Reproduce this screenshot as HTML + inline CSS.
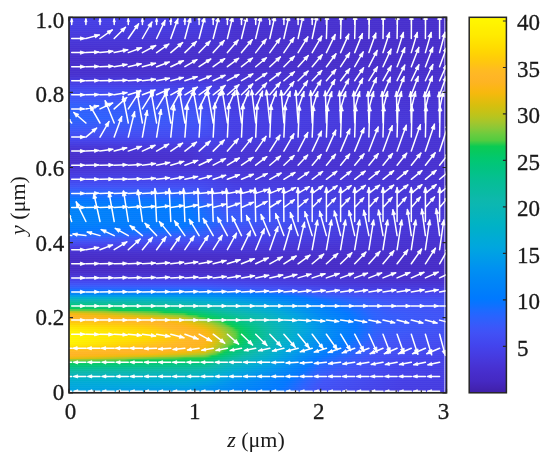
<!DOCTYPE html><html><head><meta charset="utf-8"><style>html,body{margin:0;padding:0;background:#fff;overflow:hidden}svg{display:block}text{font-family:"Liberation Serif","Times New Roman",serif;fill:#1a1a1a}</style></head><body>
<svg width="550" height="458" viewBox="0 0 550 458">
<defs><clipPath id="pc"><rect x="69.0" y="17.3" width="377.5" height="375.5"/></clipPath>
<linearGradient id="g0"><stop offset="0.000" stop-color="#453fe7"/><stop offset="0.358" stop-color="#453de3"/><stop offset="0.432" stop-color="#4733d5"/><stop offset="1.000" stop-color="#472fcd"/></linearGradient><linearGradient id="g1"><stop offset="0.000" stop-color="#453fe6"/><stop offset="0.358" stop-color="#453ce2"/><stop offset="0.432" stop-color="#4733d4"/><stop offset="1.000" stop-color="#472ecd"/></linearGradient><linearGradient id="g2"><stop offset="0.000" stop-color="#453ee5"/><stop offset="0.358" stop-color="#453ce1"/><stop offset="0.432" stop-color="#4733d3"/><stop offset="1.000" stop-color="#472ecc"/></linearGradient><linearGradient id="g3"><stop offset="0.000" stop-color="#453de4"/><stop offset="0.358" stop-color="#453be0"/><stop offset="0.432" stop-color="#4732d3"/><stop offset="1.000" stop-color="#472ecc"/></linearGradient><linearGradient id="g4"><stop offset="0.000" stop-color="#453de3"/><stop offset="0.358" stop-color="#463adf"/><stop offset="0.432" stop-color="#4732d2"/><stop offset="1.000" stop-color="#472ecc"/></linearGradient><linearGradient id="g5"><stop offset="0.000" stop-color="#453ce2"/><stop offset="0.358" stop-color="#463ade"/><stop offset="0.432" stop-color="#4731d1"/><stop offset="1.000" stop-color="#472ecc"/></linearGradient><linearGradient id="g6"><stop offset="0.000" stop-color="#453ce1"/><stop offset="0.358" stop-color="#4639dd"/><stop offset="0.442" stop-color="#4731d1"/><stop offset="1.000" stop-color="#472ecc"/></linearGradient><linearGradient id="g7"><stop offset="0.000" stop-color="#463adf"/><stop offset="0.358" stop-color="#4638dc"/><stop offset="0.442" stop-color="#4731d0"/><stop offset="1.000" stop-color="#472ecb"/></linearGradient><linearGradient id="g8"><stop offset="0.000" stop-color="#4639de"/><stop offset="0.368" stop-color="#4636d9"/><stop offset="0.442" stop-color="#4730cf"/><stop offset="1.000" stop-color="#472ecb"/></linearGradient><linearGradient id="g9"><stop offset="0.000" stop-color="#4638dc"/><stop offset="0.368" stop-color="#4636d8"/><stop offset="0.442" stop-color="#4730cf"/><stop offset="1.000" stop-color="#472dcb"/></linearGradient><linearGradient id="g10"><stop offset="0.000" stop-color="#4637db"/><stop offset="0.368" stop-color="#4735d7"/><stop offset="0.453" stop-color="#472fce"/><stop offset="1.000" stop-color="#472dcb"/></linearGradient><linearGradient id="g11"><stop offset="0.000" stop-color="#4636d9"/><stop offset="0.379" stop-color="#4733d4"/><stop offset="0.484" stop-color="#472fcd"/><stop offset="1.000" stop-color="#472dcb"/></linearGradient><linearGradient id="g12"><stop offset="0.000" stop-color="#4735d7"/><stop offset="0.379" stop-color="#4732d3"/><stop offset="0.495" stop-color="#472ecd"/><stop offset="1.000" stop-color="#472dca"/></linearGradient><linearGradient id="g13"><stop offset="0.000" stop-color="#4734d6"/><stop offset="0.379" stop-color="#4732d2"/><stop offset="0.495" stop-color="#472ecc"/><stop offset="1.000" stop-color="#472dca"/></linearGradient><linearGradient id="g14"><stop offset="0.000" stop-color="#4733d4"/><stop offset="0.379" stop-color="#4731d1"/><stop offset="0.526" stop-color="#472ecc"/><stop offset="1.000" stop-color="#472dca"/></linearGradient><linearGradient id="g15"><stop offset="0.000" stop-color="#4732d3"/><stop offset="0.389" stop-color="#4730cf"/><stop offset="1.000" stop-color="#472dca"/></linearGradient><linearGradient id="g16"><stop offset="0.000" stop-color="#4731d1"/><stop offset="0.389" stop-color="#472fce"/><stop offset="1.000" stop-color="#472dca"/></linearGradient><linearGradient id="g17"><stop offset="0.000" stop-color="#4730d0"/><stop offset="0.400" stop-color="#472ecc"/><stop offset="1.000" stop-color="#472dca"/></linearGradient><linearGradient id="g18"><stop offset="0.000" stop-color="#472fce"/><stop offset="0.400" stop-color="#472ecc"/><stop offset="1.000" stop-color="#472dca"/></linearGradient><linearGradient id="g19"><stop offset="0.000" stop-color="#472ecd"/><stop offset="1.000" stop-color="#472dca"/></linearGradient><linearGradient id="g20"><stop offset="0.000" stop-color="#472ecb"/><stop offset="1.000" stop-color="#472dca"/></linearGradient><linearGradient id="g22"><stop offset="0.000" stop-color="#472dcb"/><stop offset="1.000" stop-color="#472dca"/></linearGradient><linearGradient id="g23"><stop offset="0.000" stop-color="#472ecb"/><stop offset="1.000" stop-color="#472dcb"/></linearGradient><linearGradient id="g24"><stop offset="0.000" stop-color="#472ecc"/><stop offset="1.000" stop-color="#472ecb"/></linearGradient><linearGradient id="g25"><stop offset="0.000" stop-color="#472fcd"/><stop offset="1.000" stop-color="#472ecb"/></linearGradient><linearGradient id="g26"><stop offset="0.000" stop-color="#472fce"/><stop offset="0.400" stop-color="#472fcd"/><stop offset="1.000" stop-color="#472ecc"/></linearGradient><linearGradient id="g27"><stop offset="0.000" stop-color="#4730ce"/><stop offset="0.400" stop-color="#472fce"/><stop offset="1.000" stop-color="#472ecc"/></linearGradient><linearGradient id="g28"><stop offset="0.000" stop-color="#4730cf"/><stop offset="0.400" stop-color="#472fce"/><stop offset="1.000" stop-color="#472ecc"/></linearGradient><linearGradient id="g29"><stop offset="0.000" stop-color="#4732d3"/><stop offset="0.389" stop-color="#4731d1"/><stop offset="1.000" stop-color="#472fcd"/></linearGradient><linearGradient id="g30"><stop offset="0.000" stop-color="#4636d8"/><stop offset="0.379" stop-color="#4734d6"/><stop offset="0.516" stop-color="#4731d1"/><stop offset="1.000" stop-color="#472fcd"/></linearGradient><linearGradient id="g31"><stop offset="0.000" stop-color="#4639dd"/><stop offset="0.379" stop-color="#4636d9"/><stop offset="0.474" stop-color="#4732d2"/><stop offset="1.000" stop-color="#472fce"/></linearGradient><linearGradient id="g32"><stop offset="0.000" stop-color="#453de3"/><stop offset="0.379" stop-color="#4638dc"/><stop offset="0.453" stop-color="#4733d4"/><stop offset="1.000" stop-color="#472fce"/></linearGradient><linearGradient id="g33"><stop offset="0.000" stop-color="#4440e8"/><stop offset="0.368" stop-color="#453ce1"/><stop offset="0.432" stop-color="#4734d6"/><stop offset="1.000" stop-color="#472fce"/></linearGradient><linearGradient id="g34"><stop offset="0.000" stop-color="#4444ec"/><stop offset="0.368" stop-color="#453ee5"/><stop offset="0.432" stop-color="#4735d8"/><stop offset="1.000" stop-color="#4730cf"/></linearGradient><linearGradient id="g35"><stop offset="0.000" stop-color="#4348ef"/><stop offset="0.368" stop-color="#4440e8"/><stop offset="0.432" stop-color="#4637da"/><stop offset="1.000" stop-color="#4730cf"/></linearGradient><linearGradient id="g36"><stop offset="0.000" stop-color="#424cf2"/><stop offset="0.368" stop-color="#4442eb"/><stop offset="0.421" stop-color="#4638db"/><stop offset="1.000" stop-color="#4730cf"/></linearGradient><linearGradient id="g37"><stop offset="0.000" stop-color="#414ef4"/><stop offset="0.368" stop-color="#4443ec"/><stop offset="0.421" stop-color="#4638dc"/><stop offset="1.000" stop-color="#4730d0"/></linearGradient><linearGradient id="g38"><stop offset="0.000" stop-color="#4151f6"/><stop offset="0.368" stop-color="#4444ec"/><stop offset="0.421" stop-color="#4639dd"/><stop offset="1.000" stop-color="#4731d0"/></linearGradient><linearGradient id="g39"><stop offset="0.000" stop-color="#4053f8"/><stop offset="0.358" stop-color="#4347ef"/><stop offset="0.432" stop-color="#463ade"/><stop offset="1.000" stop-color="#4731d1"/></linearGradient><linearGradient id="g40"><stop offset="0.000" stop-color="#3d56f9"/><stop offset="0.358" stop-color="#4348f0"/><stop offset="0.432" stop-color="#463adf"/><stop offset="1.000" stop-color="#4731d1"/></linearGradient><linearGradient id="g41"><stop offset="0.000" stop-color="#3959fa"/><stop offset="0.358" stop-color="#4249f0"/><stop offset="0.432" stop-color="#453be0"/><stop offset="1.000" stop-color="#4731d2"/></linearGradient><linearGradient id="g42"><stop offset="0.000" stop-color="#355bfb"/><stop offset="0.347" stop-color="#424cf2"/><stop offset="0.432" stop-color="#453be1"/><stop offset="1.000" stop-color="#4732d2"/></linearGradient><linearGradient id="g43"><stop offset="0.000" stop-color="#315efc"/><stop offset="0.347" stop-color="#424df3"/><stop offset="0.432" stop-color="#453ce1"/><stop offset="1.000" stop-color="#4732d2"/></linearGradient><linearGradient id="g44"><stop offset="0.000" stop-color="#2f60fc"/><stop offset="0.337" stop-color="#414ff5"/><stop offset="0.432" stop-color="#453ce2"/><stop offset="1.000" stop-color="#4732d3"/></linearGradient><linearGradient id="g45"><stop offset="0.000" stop-color="#2e60fd"/><stop offset="0.347" stop-color="#414ff4"/><stop offset="0.432" stop-color="#453de3"/><stop offset="1.000" stop-color="#4732d3"/></linearGradient><linearGradient id="g46"><stop offset="0.000" stop-color="#2c61fd"/><stop offset="0.347" stop-color="#4150f5"/><stop offset="0.432" stop-color="#453de4"/><stop offset="1.000" stop-color="#4733d4"/></linearGradient><linearGradient id="g47"><stop offset="0.000" stop-color="#2b62fd"/><stop offset="0.347" stop-color="#4151f6"/><stop offset="0.432" stop-color="#453ee5"/><stop offset="1.000" stop-color="#4733d4"/></linearGradient><linearGradient id="g48"><stop offset="0.000" stop-color="#2a63fe"/><stop offset="0.347" stop-color="#4152f6"/><stop offset="0.421" stop-color="#453fe6"/><stop offset="1.000" stop-color="#4733d4"/></linearGradient><linearGradient id="g49"><stop offset="0.000" stop-color="#2963fe"/><stop offset="0.358" stop-color="#4152f6"/><stop offset="0.421" stop-color="#453fe7"/><stop offset="1.000" stop-color="#4734d5"/></linearGradient><linearGradient id="g50"><stop offset="0.000" stop-color="#2864fe"/><stop offset="0.337" stop-color="#3f55f8"/><stop offset="0.432" stop-color="#4440e7"/><stop offset="1.000" stop-color="#4734d5"/></linearGradient><linearGradient id="g51"><stop offset="0.000" stop-color="#2c62fd"/><stop offset="0.358" stop-color="#4152f6"/><stop offset="0.421" stop-color="#453fe7"/><stop offset="1.000" stop-color="#4734d5"/></linearGradient><linearGradient id="g52"><stop offset="0.000" stop-color="#2f5ffc"/><stop offset="0.358" stop-color="#4151f6"/><stop offset="0.421" stop-color="#453fe6"/><stop offset="1.000" stop-color="#4734d5"/></linearGradient><linearGradient id="g53"><stop offset="0.000" stop-color="#325dfc"/><stop offset="0.358" stop-color="#4151f6"/><stop offset="0.421" stop-color="#453fe6"/><stop offset="1.000" stop-color="#4733d5"/></linearGradient><linearGradient id="g54"><stop offset="0.000" stop-color="#355bfb"/><stop offset="0.358" stop-color="#4150f5"/><stop offset="0.421" stop-color="#453ee6"/><stop offset="1.000" stop-color="#4733d4"/></linearGradient><linearGradient id="g55"><stop offset="0.000" stop-color="#3959fa"/><stop offset="0.358" stop-color="#414ff5"/><stop offset="0.421" stop-color="#453ee5"/><stop offset="1.000" stop-color="#4733d4"/></linearGradient><linearGradient id="g56"><stop offset="0.000" stop-color="#3c56f9"/><stop offset="0.368" stop-color="#424cf2"/><stop offset="0.432" stop-color="#453ee5"/><stop offset="1.000" stop-color="#4733d4"/></linearGradient><linearGradient id="g57"><stop offset="0.000" stop-color="#4052f7"/><stop offset="0.368" stop-color="#424bf2"/><stop offset="0.432" stop-color="#453ee4"/><stop offset="1.000" stop-color="#4733d4"/></linearGradient><linearGradient id="g58"><stop offset="0.000" stop-color="#414ff4"/><stop offset="0.368" stop-color="#424bf1"/><stop offset="0.432" stop-color="#453de4"/><stop offset="1.000" stop-color="#4733d4"/></linearGradient><linearGradient id="g59"><stop offset="0.000" stop-color="#424bf1"/><stop offset="0.347" stop-color="#424af1"/><stop offset="0.442" stop-color="#453ce2"/><stop offset="1.000" stop-color="#4733d4"/></linearGradient><linearGradient id="g60"><stop offset="0.000" stop-color="#4347ef"/><stop offset="0.337" stop-color="#4346ee"/><stop offset="0.379" stop-color="#4443ec"/><stop offset="0.432" stop-color="#453be1"/><stop offset="1.000" stop-color="#4733d3"/></linearGradient><linearGradient id="g61"><stop offset="0.000" stop-color="#4443ec"/><stop offset="0.326" stop-color="#4442eb"/><stop offset="0.379" stop-color="#4441ea"/><stop offset="0.432" stop-color="#463adf"/><stop offset="1.000" stop-color="#4733d3"/></linearGradient><linearGradient id="g62"><stop offset="0.000" stop-color="#453fe6"/><stop offset="0.326" stop-color="#453fe7"/><stop offset="0.368" stop-color="#4441ea"/><stop offset="0.432" stop-color="#4639dd"/><stop offset="1.000" stop-color="#4732d3"/></linearGradient><linearGradient id="g63"><stop offset="0.000" stop-color="#453be0"/><stop offset="0.316" stop-color="#453be1"/><stop offset="0.368" stop-color="#453fe6"/><stop offset="0.432" stop-color="#4637db"/><stop offset="1.000" stop-color="#4732d3"/></linearGradient><linearGradient id="g64"><stop offset="0.000" stop-color="#4637da"/><stop offset="0.316" stop-color="#4638dc"/><stop offset="0.368" stop-color="#453de3"/><stop offset="0.442" stop-color="#4636d9"/><stop offset="1.000" stop-color="#4732d3"/></linearGradient><linearGradient id="g65"><stop offset="0.000" stop-color="#4734d5"/><stop offset="0.316" stop-color="#4636d8"/><stop offset="0.368" stop-color="#463adf"/><stop offset="0.453" stop-color="#4735d7"/><stop offset="1.000" stop-color="#4732d2"/></linearGradient><linearGradient id="g66"><stop offset="0.000" stop-color="#4732d2"/><stop offset="0.316" stop-color="#4734d5"/><stop offset="0.368" stop-color="#4638dc"/><stop offset="0.474" stop-color="#4734d5"/><stop offset="1.000" stop-color="#4732d2"/></linearGradient><linearGradient id="g67"><stop offset="0.000" stop-color="#4730d0"/><stop offset="0.316" stop-color="#4732d3"/><stop offset="0.368" stop-color="#4638db"/><stop offset="0.484" stop-color="#4733d4"/><stop offset="1.000" stop-color="#4732d2"/></linearGradient><linearGradient id="g68"><stop offset="0.000" stop-color="#472fcd"/><stop offset="0.316" stop-color="#4731d1"/><stop offset="0.368" stop-color="#4637da"/><stop offset="0.495" stop-color="#4733d4"/><stop offset="1.000" stop-color="#4731d1"/></linearGradient><linearGradient id="g69"><stop offset="0.000" stop-color="#472ecc"/><stop offset="0.316" stop-color="#4730d0"/><stop offset="0.368" stop-color="#4636d9"/><stop offset="0.505" stop-color="#4732d3"/><stop offset="1.000" stop-color="#4731d1"/></linearGradient><linearGradient id="g70"><stop offset="0.000" stop-color="#472ecc"/><stop offset="0.316" stop-color="#4730cf"/><stop offset="0.368" stop-color="#4636d8"/><stop offset="0.516" stop-color="#4732d2"/><stop offset="1.000" stop-color="#4731d1"/></linearGradient><linearGradient id="g71"><stop offset="0.000" stop-color="#472ecc"/><stop offset="0.316" stop-color="#4730cf"/><stop offset="0.368" stop-color="#4735d7"/><stop offset="0.537" stop-color="#4732d2"/><stop offset="1.000" stop-color="#4731d0"/></linearGradient><linearGradient id="g72"><stop offset="0.000" stop-color="#472ecc"/><stop offset="0.316" stop-color="#4730cf"/><stop offset="0.379" stop-color="#4733d4"/><stop offset="1.000" stop-color="#4730d0"/></linearGradient><linearGradient id="g73"><stop offset="0.000" stop-color="#4730cf"/><stop offset="0.337" stop-color="#4732d3"/><stop offset="1.000" stop-color="#4730d0"/></linearGradient><linearGradient id="g74"><stop offset="0.000" stop-color="#4732d2"/><stop offset="0.389" stop-color="#4733d3"/><stop offset="1.000" stop-color="#4730d0"/></linearGradient><linearGradient id="g75"><stop offset="0.000" stop-color="#4734d5"/><stop offset="0.379" stop-color="#4735d7"/><stop offset="0.600" stop-color="#4732d3"/><stop offset="1.000" stop-color="#4730d0"/></linearGradient><linearGradient id="g76"><stop offset="0.000" stop-color="#4636d8"/><stop offset="0.379" stop-color="#4637da"/><stop offset="0.526" stop-color="#4733d4"/><stop offset="1.000" stop-color="#4731d0"/></linearGradient><linearGradient id="g77"><stop offset="0.000" stop-color="#4638dc"/><stop offset="0.379" stop-color="#4639dc"/><stop offset="0.505" stop-color="#4734d6"/><stop offset="1.000" stop-color="#4731d0"/></linearGradient><linearGradient id="g78"><stop offset="0.000" stop-color="#453be0"/><stop offset="0.379" stop-color="#463adf"/><stop offset="0.474" stop-color="#4735d8"/><stop offset="1.000" stop-color="#4731d1"/></linearGradient><linearGradient id="g79"><stop offset="0.000" stop-color="#453de4"/><stop offset="0.379" stop-color="#453ce2"/><stop offset="0.463" stop-color="#4637da"/><stop offset="1.000" stop-color="#4731d1"/></linearGradient><linearGradient id="g80"><stop offset="0.000" stop-color="#4440e8"/><stop offset="0.368" stop-color="#453fe7"/><stop offset="0.442" stop-color="#4638dc"/><stop offset="1.000" stop-color="#4731d1"/></linearGradient><linearGradient id="g81"><stop offset="0.000" stop-color="#4345ed"/><stop offset="0.368" stop-color="#4441e9"/><stop offset="0.432" stop-color="#463ade"/><stop offset="1.000" stop-color="#4731d2"/></linearGradient><linearGradient id="g82"><stop offset="0.000" stop-color="#4249f0"/><stop offset="0.358" stop-color="#4345ed"/><stop offset="0.432" stop-color="#453be0"/><stop offset="1.000" stop-color="#4732d2"/></linearGradient><linearGradient id="g83"><stop offset="0.000" stop-color="#414ef4"/><stop offset="0.347" stop-color="#4348ef"/><stop offset="0.442" stop-color="#453ce2"/><stop offset="1.000" stop-color="#4732d2"/></linearGradient><linearGradient id="g84"><stop offset="0.000" stop-color="#4053f7"/><stop offset="0.337" stop-color="#424cf2"/><stop offset="0.442" stop-color="#453de4"/><stop offset="1.000" stop-color="#4732d2"/></linearGradient><linearGradient id="g85"><stop offset="0.000" stop-color="#3959fa"/><stop offset="0.326" stop-color="#4151f6"/><stop offset="0.432" stop-color="#453fe6"/><stop offset="1.000" stop-color="#4732d3"/></linearGradient><linearGradient id="g86"><stop offset="0.000" stop-color="#315efc"/><stop offset="0.305" stop-color="#3859fa"/><stop offset="0.379" stop-color="#4249f0"/><stop offset="0.442" stop-color="#4440e8"/><stop offset="0.989" stop-color="#4732d3"/><stop offset="1.000" stop-color="#4732d3"/></linearGradient><linearGradient id="g87"><stop offset="0.000" stop-color="#2864fe"/><stop offset="0.305" stop-color="#315efc"/><stop offset="0.358" stop-color="#4151f6"/><stop offset="0.432" stop-color="#4442eb"/><stop offset="0.968" stop-color="#4733d4"/><stop offset="1.000" stop-color="#4732d3"/></linearGradient><linearGradient id="g88"><stop offset="0.000" stop-color="#1e69ff"/><stop offset="0.305" stop-color="#2b62fe"/><stop offset="0.368" stop-color="#4151f6"/><stop offset="0.432" stop-color="#4444ed"/><stop offset="0.968" stop-color="#4733d4"/><stop offset="1.000" stop-color="#4733d3"/></linearGradient><linearGradient id="g89"><stop offset="0.000" stop-color="#146eff"/><stop offset="0.305" stop-color="#2466ff"/><stop offset="0.379" stop-color="#4151f6"/><stop offset="0.432" stop-color="#4347ee"/><stop offset="0.968" stop-color="#4733d4"/><stop offset="1.000" stop-color="#4733d4"/></linearGradient><linearGradient id="g90"><stop offset="0.000" stop-color="#0974ff"/><stop offset="0.305" stop-color="#1a6bff"/><stop offset="0.379" stop-color="#4053f8"/><stop offset="0.432" stop-color="#4249f0"/><stop offset="0.811" stop-color="#4636d9"/><stop offset="1.000" stop-color="#4733d4"/></linearGradient><linearGradient id="g91"><stop offset="0.000" stop-color="#0078ff"/><stop offset="0.295" stop-color="#0c72ff"/><stop offset="0.379" stop-color="#3d56f9"/><stop offset="0.432" stop-color="#424bf2"/><stop offset="0.789" stop-color="#4638dc"/><stop offset="1.000" stop-color="#4733d4"/></linearGradient><linearGradient id="g92"><stop offset="0.000" stop-color="#007afe"/><stop offset="0.295" stop-color="#0775ff"/><stop offset="0.379" stop-color="#3859fa"/><stop offset="0.421" stop-color="#414ef3"/><stop offset="0.768" stop-color="#463adf"/><stop offset="1.000" stop-color="#4733d5"/></linearGradient><linearGradient id="g93"><stop offset="0.000" stop-color="#007dfc"/><stop offset="0.295" stop-color="#0277ff"/><stop offset="0.400" stop-color="#3f55f8"/><stop offset="0.811" stop-color="#4638dc"/><stop offset="1.000" stop-color="#4734d5"/></linearGradient><linearGradient id="g94"><stop offset="0.000" stop-color="#007ffb"/><stop offset="0.305" stop-color="#0178ff"/><stop offset="0.400" stop-color="#3b57f9"/><stop offset="0.463" stop-color="#4152f6"/><stop offset="0.926" stop-color="#4735d8"/><stop offset="1.000" stop-color="#4734d5"/></linearGradient><linearGradient id="g95"><stop offset="0.000" stop-color="#0081fa"/><stop offset="0.316" stop-color="#0277ff"/><stop offset="0.411" stop-color="#3d56f9"/><stop offset="0.779" stop-color="#453be0"/><stop offset="1.000" stop-color="#4734d6"/></linearGradient><linearGradient id="g96"><stop offset="0.000" stop-color="#0083f9"/><stop offset="0.316" stop-color="#0079ff"/><stop offset="0.411" stop-color="#3a58fa"/><stop offset="0.789" stop-color="#453be0"/><stop offset="1.000" stop-color="#4734d6"/></linearGradient><linearGradient id="g97"><stop offset="0.000" stop-color="#0083f9"/><stop offset="0.316" stop-color="#0079ff"/><stop offset="0.411" stop-color="#3959fa"/><stop offset="0.684" stop-color="#4442eb"/><stop offset="0.916" stop-color="#4636d9"/><stop offset="1.000" stop-color="#4734d6"/></linearGradient><linearGradient id="g98"><stop offset="0.000" stop-color="#0083f9"/><stop offset="0.326" stop-color="#0376ff"/><stop offset="0.411" stop-color="#375afa"/><stop offset="0.632" stop-color="#4347ef"/><stop offset="0.926" stop-color="#4636d9"/><stop offset="1.000" stop-color="#4735d6"/></linearGradient><linearGradient id="g99"><stop offset="0.000" stop-color="#0083f9"/><stop offset="0.326" stop-color="#0377ff"/><stop offset="0.411" stop-color="#365bfb"/><stop offset="0.600" stop-color="#424af1"/><stop offset="0.916" stop-color="#4637d9"/><stop offset="1.000" stop-color="#4735d7"/></linearGradient><linearGradient id="g100"><stop offset="0.000" stop-color="#0083f9"/><stop offset="0.326" stop-color="#0377ff"/><stop offset="0.411" stop-color="#355bfb"/><stop offset="0.589" stop-color="#424cf2"/><stop offset="0.905" stop-color="#4637da"/><stop offset="1.000" stop-color="#4735d7"/></linearGradient><linearGradient id="g101"><stop offset="0.000" stop-color="#0083f9"/><stop offset="0.326" stop-color="#0277ff"/><stop offset="0.411" stop-color="#345cfb"/><stop offset="0.579" stop-color="#424df3"/><stop offset="0.905" stop-color="#4637da"/><stop offset="1.000" stop-color="#4735d7"/></linearGradient><linearGradient id="g102"><stop offset="0.000" stop-color="#0082f9"/><stop offset="0.326" stop-color="#0377ff"/><stop offset="0.411" stop-color="#335cfb"/><stop offset="0.579" stop-color="#424df3"/><stop offset="0.895" stop-color="#4637da"/><stop offset="1.000" stop-color="#4735d8"/></linearGradient><linearGradient id="g103"><stop offset="0.000" stop-color="#0080fa"/><stop offset="0.305" stop-color="#0078ff"/><stop offset="0.421" stop-color="#3958fa"/><stop offset="0.716" stop-color="#453fe6"/><stop offset="0.926" stop-color="#4636d9"/><stop offset="1.000" stop-color="#4735d7"/></linearGradient><linearGradient id="g104"><stop offset="0.000" stop-color="#007efc"/><stop offset="0.305" stop-color="#0675ff"/><stop offset="0.421" stop-color="#3e55f9"/><stop offset="0.863" stop-color="#4636d9"/><stop offset="1.000" stop-color="#4734d6"/></linearGradient><linearGradient id="g105"><stop offset="0.000" stop-color="#007cfd"/><stop offset="0.168" stop-color="#0675ff"/><stop offset="0.305" stop-color="#0e71ff"/><stop offset="0.411" stop-color="#4053f7"/><stop offset="0.874" stop-color="#4735d8"/><stop offset="1.000" stop-color="#4734d5"/></linearGradient><linearGradient id="g106"><stop offset="0.000" stop-color="#007afe"/><stop offset="0.158" stop-color="#0c72ff"/><stop offset="0.305" stop-color="#156eff"/><stop offset="0.411" stop-color="#4150f5"/><stop offset="0.884" stop-color="#4735d6"/><stop offset="1.000" stop-color="#4733d5"/></linearGradient><linearGradient id="g107"><stop offset="0.000" stop-color="#0377ff"/><stop offset="0.253" stop-color="#1b6bff"/><stop offset="0.305" stop-color="#1e6aff"/><stop offset="0.379" stop-color="#3959fa"/><stop offset="0.421" stop-color="#424df3"/><stop offset="0.726" stop-color="#4639dd"/><stop offset="1.000" stop-color="#4733d4"/></linearGradient><linearGradient id="g108"><stop offset="0.000" stop-color="#156eff"/><stop offset="0.253" stop-color="#2864fe"/><stop offset="0.358" stop-color="#325dfc"/><stop offset="0.400" stop-color="#414ef4"/><stop offset="0.853" stop-color="#4733d5"/><stop offset="1.000" stop-color="#4733d3"/></linearGradient><linearGradient id="g109"><stop offset="0.000" stop-color="#2765ff"/><stop offset="0.337" stop-color="#375afa"/><stop offset="0.421" stop-color="#4346ee"/><stop offset="0.642" stop-color="#453be0"/><stop offset="0.926" stop-color="#4732d3"/><stop offset="1.000" stop-color="#4732d3"/></linearGradient><linearGradient id="g110"><stop offset="0.000" stop-color="#325dfc"/><stop offset="0.358" stop-color="#4151f6"/><stop offset="0.432" stop-color="#4442eb"/><stop offset="0.895" stop-color="#4732d2"/><stop offset="1.000" stop-color="#4732d2"/></linearGradient><linearGradient id="g111"><stop offset="0.000" stop-color="#3d56f9"/><stop offset="0.347" stop-color="#424cf2"/><stop offset="0.442" stop-color="#453fe7"/><stop offset="0.905" stop-color="#4731d1"/><stop offset="1.000" stop-color="#4731d1"/></linearGradient><linearGradient id="g112"><stop offset="0.000" stop-color="#414ef3"/><stop offset="0.347" stop-color="#4346ee"/><stop offset="0.442" stop-color="#453ce2"/><stop offset="0.937" stop-color="#4731d0"/><stop offset="1.000" stop-color="#4731d0"/></linearGradient><linearGradient id="g113"><stop offset="0.000" stop-color="#4346ee"/><stop offset="0.347" stop-color="#4440e8"/><stop offset="0.453" stop-color="#4639dd"/><stop offset="0.979" stop-color="#4730cf"/><stop offset="1.000" stop-color="#4730cf"/></linearGradient><linearGradient id="g114"><stop offset="0.000" stop-color="#453fe6"/><stop offset="0.347" stop-color="#453ce2"/><stop offset="0.474" stop-color="#4636d9"/><stop offset="1.000" stop-color="#472fce"/></linearGradient><linearGradient id="g115"><stop offset="0.000" stop-color="#463ade"/><stop offset="0.389" stop-color="#4636d9"/><stop offset="1.000" stop-color="#472fcd"/></linearGradient><linearGradient id="g116"><stop offset="0.000" stop-color="#4734d6"/><stop offset="0.389" stop-color="#4734d6"/><stop offset="1.000" stop-color="#472ecc"/></linearGradient><linearGradient id="g117"><stop offset="0.000" stop-color="#4730cf"/><stop offset="0.347" stop-color="#4733d3"/><stop offset="1.000" stop-color="#472ecb"/></linearGradient><linearGradient id="g118"><stop offset="0.000" stop-color="#472ecc"/><stop offset="0.716" stop-color="#472fcd"/><stop offset="1.000" stop-color="#472dca"/></linearGradient><linearGradient id="g120"><stop offset="0.000" stop-color="#462cc7"/><stop offset="1.000" stop-color="#472dca"/></linearGradient><linearGradient id="g121"><stop offset="0.000" stop-color="#462ac5"/><stop offset="1.000" stop-color="#462dc9"/></linearGradient><linearGradient id="g122"><stop offset="0.000" stop-color="#462ac5"/><stop offset="1.000" stop-color="#462dc9"/></linearGradient><linearGradient id="g123"><stop offset="0.000" stop-color="#462ac5"/><stop offset="1.000" stop-color="#462cc9"/></linearGradient><linearGradient id="g124"><stop offset="0.000" stop-color="#462ac5"/><stop offset="1.000" stop-color="#462cc8"/></linearGradient><linearGradient id="g125"><stop offset="0.000" stop-color="#462ac5"/><stop offset="0.979" stop-color="#462cc8"/><stop offset="1.000" stop-color="#462cc8"/></linearGradient><linearGradient id="g126"><stop offset="0.000" stop-color="#462bc6"/><stop offset="0.811" stop-color="#462cc8"/><stop offset="1.000" stop-color="#462cc8"/></linearGradient><linearGradient id="g127"><stop offset="0.000" stop-color="#472dcb"/><stop offset="1.000" stop-color="#462cc9"/></linearGradient><linearGradient id="g128"><stop offset="0.000" stop-color="#4731d0"/><stop offset="1.000" stop-color="#472dca"/></linearGradient><linearGradient id="g129"><stop offset="0.000" stop-color="#4735d7"/><stop offset="0.368" stop-color="#4732d2"/><stop offset="1.000" stop-color="#472dcb"/></linearGradient><linearGradient id="g130"><stop offset="0.000" stop-color="#453ce1"/><stop offset="0.358" stop-color="#4639dd"/><stop offset="0.958" stop-color="#472ecb"/><stop offset="1.000" stop-color="#472ecb"/></linearGradient><linearGradient id="g131"><stop offset="0.000" stop-color="#4442eb"/><stop offset="0.358" stop-color="#453fe7"/><stop offset="0.895" stop-color="#472ecd"/><stop offset="1.000" stop-color="#472ecc"/></linearGradient><linearGradient id="g132"><stop offset="0.000" stop-color="#424bf1"/><stop offset="0.358" stop-color="#4346ee"/><stop offset="0.800" stop-color="#4732d2"/><stop offset="1.000" stop-color="#4730cf"/></linearGradient><linearGradient id="g133"><stop offset="0.000" stop-color="#4053f7"/><stop offset="0.358" stop-color="#414ef4"/><stop offset="0.642" stop-color="#463adf"/><stop offset="1.000" stop-color="#4732d3"/></linearGradient><linearGradient id="g134"><stop offset="0.000" stop-color="#365bfb"/><stop offset="0.326" stop-color="#3959fa"/><stop offset="0.474" stop-color="#414ef3"/><stop offset="0.800" stop-color="#4638dc"/><stop offset="1.000" stop-color="#4735d8"/></linearGradient><linearGradient id="g135"><stop offset="0.000" stop-color="#2963fe"/><stop offset="0.326" stop-color="#2d61fd"/><stop offset="0.537" stop-color="#4150f5"/><stop offset="0.789" stop-color="#453ce2"/><stop offset="1.000" stop-color="#4639dd"/></linearGradient><linearGradient id="g136"><stop offset="0.000" stop-color="#0f71ff"/><stop offset="0.316" stop-color="#126fff"/><stop offset="0.463" stop-color="#2c62fd"/><stop offset="0.621" stop-color="#414ff4"/><stop offset="0.895" stop-color="#453de4"/><stop offset="1.000" stop-color="#453ce2"/></linearGradient><linearGradient id="g137"><stop offset="0.000" stop-color="#007efc"/><stop offset="0.379" stop-color="#0079fe"/><stop offset="0.484" stop-color="#146eff"/><stop offset="0.663" stop-color="#4151f6"/><stop offset="0.895" stop-color="#4441ea"/><stop offset="1.000" stop-color="#453fe7"/></linearGradient><linearGradient id="g138"><stop offset="0.000" stop-color="#0089f5"/><stop offset="0.379" stop-color="#0083f9"/><stop offset="0.526" stop-color="#0377ff"/><stop offset="0.579" stop-color="#166dff"/><stop offset="0.663" stop-color="#3859fa"/><stop offset="0.768" stop-color="#424df3"/><stop offset="1.000" stop-color="#4443eb"/></linearGradient><linearGradient id="g139"><stop offset="0.000" stop-color="#00a2e3"/><stop offset="0.305" stop-color="#0097ec"/><stop offset="0.589" stop-color="#0177ff"/><stop offset="0.663" stop-color="#2c62fd"/><stop offset="0.789" stop-color="#4150f5"/><stop offset="1.000" stop-color="#4346ee"/></linearGradient><linearGradient id="g140"><stop offset="0.000" stop-color="#00b1c9"/><stop offset="0.253" stop-color="#00abd6"/><stop offset="0.389" stop-color="#009de7"/><stop offset="0.621" stop-color="#0079ff"/><stop offset="0.684" stop-color="#2466ff"/><stop offset="0.821" stop-color="#4151f6"/><stop offset="1.000" stop-color="#424af1"/></linearGradient><linearGradient id="g141"><stop offset="0.000" stop-color="#0bb7b1"/><stop offset="0.242" stop-color="#03b3c0"/><stop offset="0.432" stop-color="#00a1e4"/><stop offset="0.653" stop-color="#0177ff"/><stop offset="0.737" stop-color="#2864fe"/><stop offset="0.842" stop-color="#4054f8"/><stop offset="1.000" stop-color="#414df3"/></linearGradient><linearGradient id="g142"><stop offset="0.000" stop-color="#07bd9b"/><stop offset="0.253" stop-color="#0ab7b3"/><stop offset="0.389" stop-color="#00aece"/><stop offset="0.568" stop-color="#008ff2"/><stop offset="0.663" stop-color="#0078ff"/><stop offset="0.768" stop-color="#2d61fd"/><stop offset="0.853" stop-color="#3f55f8"/><stop offset="1.000" stop-color="#414ef4"/></linearGradient><linearGradient id="g143"><stop offset="0.000" stop-color="#03c385"/><stop offset="0.274" stop-color="#0bb9a8"/><stop offset="0.474" stop-color="#00a9da"/><stop offset="0.674" stop-color="#0079fe"/><stop offset="0.800" stop-color="#345cfb"/><stop offset="0.884" stop-color="#4054f8"/><stop offset="1.000" stop-color="#414ff4"/></linearGradient><linearGradient id="g144"><stop offset="0.000" stop-color="#01c770"/><stop offset="0.295" stop-color="#07bd9b"/><stop offset="0.368" stop-color="#0bb7b1"/><stop offset="0.474" stop-color="#00add0"/><stop offset="0.568" stop-color="#009ae9"/><stop offset="0.705" stop-color="#0476ff"/><stop offset="0.789" stop-color="#2e60fd"/><stop offset="0.853" stop-color="#3c56f9"/><stop offset="1.000" stop-color="#414ff5"/></linearGradient><linearGradient id="g145"><stop offset="0.000" stop-color="#08ca5b"/><stop offset="0.242" stop-color="#02c47e"/><stop offset="0.368" stop-color="#0abaa4"/><stop offset="0.432" stop-color="#05b4bc"/><stop offset="0.568" stop-color="#00a0e5"/><stop offset="0.674" stop-color="#007ffb"/><stop offset="0.716" stop-color="#0377ff"/><stop offset="0.789" stop-color="#2c61fd"/><stop offset="0.842" stop-color="#3a58fa"/><stop offset="1.000" stop-color="#4150f5"/></linearGradient><linearGradient id="g146"><stop offset="0.000" stop-color="#6bcc3f"/><stop offset="0.095" stop-color="#4ecc40"/><stop offset="0.105" stop-color="#3bcc44"/><stop offset="0.116" stop-color="#1fcc49"/><stop offset="0.126" stop-color="#0dcc4e"/><stop offset="0.242" stop-color="#04c966"/><stop offset="0.347" stop-color="#04c18d"/><stop offset="0.421" stop-color="#0bb7b0"/><stop offset="0.537" stop-color="#00acd4"/><stop offset="0.600" stop-color="#0099ea"/><stop offset="0.705" stop-color="#007bfd"/><stop offset="0.737" stop-color="#0a73ff"/><stop offset="0.800" stop-color="#2e60fd"/><stop offset="0.853" stop-color="#3a58fa"/><stop offset="1.000" stop-color="#4151f6"/></linearGradient><linearGradient id="g147"><stop offset="0.000" stop-color="#d4c010"/><stop offset="0.084" stop-color="#b0c524"/><stop offset="0.168" stop-color="#79ca3b"/><stop offset="0.232" stop-color="#50cc40"/><stop offset="0.253" stop-color="#0ccc4f"/><stop offset="0.316" stop-color="#03c869"/><stop offset="0.400" stop-color="#07bd9b"/><stop offset="0.453" stop-color="#0ab7b2"/><stop offset="0.558" stop-color="#00aad6"/><stop offset="0.653" stop-color="#0089f5"/><stop offset="0.737" stop-color="#0476ff"/><stop offset="0.800" stop-color="#2c61fd"/><stop offset="0.853" stop-color="#3859fa"/><stop offset="1.000" stop-color="#4151f6"/></linearGradient><linearGradient id="g148"><stop offset="0.000" stop-color="#fbb712"/><stop offset="0.063" stop-color="#e6bc0d"/><stop offset="0.147" stop-color="#c1c419"/><stop offset="0.232" stop-color="#89c937"/><stop offset="0.305" stop-color="#4ecc40"/><stop offset="0.316" stop-color="#0ccc50"/><stop offset="0.379" stop-color="#02c47e"/><stop offset="0.442" stop-color="#0abaa4"/><stop offset="0.505" stop-color="#06b5ba"/><stop offset="0.600" stop-color="#00a1e4"/><stop offset="0.674" stop-color="#0086f7"/><stop offset="0.737" stop-color="#0078ff"/><stop offset="0.800" stop-color="#2a63fe"/><stop offset="0.842" stop-color="#365bfb"/><stop offset="1.000" stop-color="#4052f6"/></linearGradient><linearGradient id="g149"><stop offset="0.000" stop-color="#ffb326"/><stop offset="0.095" stop-color="#f7b90d"/><stop offset="0.211" stop-color="#cfc112"/><stop offset="0.274" stop-color="#a9c628"/><stop offset="0.295" stop-color="#9ac732"/><stop offset="0.337" stop-color="#52cc40"/><stop offset="0.347" stop-color="#0ccc4f"/><stop offset="0.400" stop-color="#02c47e"/><stop offset="0.463" stop-color="#0abba4"/><stop offset="0.505" stop-color="#09b6b5"/><stop offset="0.579" stop-color="#00abd6"/><stop offset="0.663" stop-color="#008af5"/><stop offset="0.747" stop-color="#0377ff"/><stop offset="0.811" stop-color="#2e60fd"/><stop offset="0.905" stop-color="#3b57f9"/><stop offset="1.000" stop-color="#4052f7"/></linearGradient><linearGradient id="g150"><stop offset="0.000" stop-color="#ffb726"/><stop offset="0.095" stop-color="#feb421"/><stop offset="0.211" stop-color="#f5b90d"/><stop offset="0.274" stop-color="#d3c010"/><stop offset="0.305" stop-color="#bec41b"/><stop offset="0.337" stop-color="#83c939"/><stop offset="0.358" stop-color="#57cc40"/><stop offset="0.368" stop-color="#0dcc4d"/><stop offset="0.411" stop-color="#01c676"/><stop offset="0.474" stop-color="#09bca0"/><stop offset="0.516" stop-color="#0ab6b4"/><stop offset="0.579" stop-color="#00add1"/><stop offset="0.642" stop-color="#0095ed"/><stop offset="0.747" stop-color="#0078ff"/><stop offset="0.811" stop-color="#2d60fd"/><stop offset="0.884" stop-color="#3958fa"/><stop offset="1.000" stop-color="#4152f6"/></linearGradient><linearGradient id="g151"><stop offset="0.000" stop-color="#ffbf1b"/><stop offset="0.095" stop-color="#ffb626"/><stop offset="0.189" stop-color="#feb421"/><stop offset="0.253" stop-color="#f7b90d"/><stop offset="0.305" stop-color="#d6c00e"/><stop offset="0.337" stop-color="#aec525"/><stop offset="0.368" stop-color="#71cb3d"/><stop offset="0.379" stop-color="#5bcc40"/><stop offset="0.389" stop-color="#1fcc49"/><stop offset="0.400" stop-color="#0acb57"/><stop offset="0.432" stop-color="#01c678"/><stop offset="0.495" stop-color="#0abba3"/><stop offset="0.537" stop-color="#07b5b8"/><stop offset="0.600" stop-color="#00aad8"/><stop offset="0.674" stop-color="#008bf4"/><stop offset="0.747" stop-color="#0079fe"/><stop offset="0.821" stop-color="#335dfb"/><stop offset="1.000" stop-color="#4151f6"/></linearGradient><linearGradient id="g152"><stop offset="0.000" stop-color="#ffc90c"/><stop offset="0.189" stop-color="#ffb726"/><stop offset="0.242" stop-color="#ffb324"/><stop offset="0.295" stop-color="#f7b90d"/><stop offset="0.337" stop-color="#cec113"/><stop offset="0.358" stop-color="#b5c521"/><stop offset="0.379" stop-color="#8ac837"/><stop offset="0.400" stop-color="#59cc40"/><stop offset="0.411" stop-color="#0dcc4e"/><stop offset="0.442" stop-color="#00c775"/><stop offset="0.505" stop-color="#0abaa4"/><stop offset="0.558" stop-color="#03b3c1"/><stop offset="0.632" stop-color="#009fe5"/><stop offset="0.695" stop-color="#0087f7"/><stop offset="0.758" stop-color="#0476ff"/><stop offset="0.811" stop-color="#2d61fd"/><stop offset="0.874" stop-color="#3959fa"/><stop offset="1.000" stop-color="#4151f6"/></linearGradient><linearGradient id="g153"><stop offset="0.000" stop-color="#ffd602"/><stop offset="0.179" stop-color="#ffc116"/><stop offset="0.242" stop-color="#ffb626"/><stop offset="0.274" stop-color="#feb423"/><stop offset="0.316" stop-color="#f6b90d"/><stop offset="0.358" stop-color="#d2c011"/><stop offset="0.379" stop-color="#afc525"/><stop offset="0.400" stop-color="#79ca3b"/><stop offset="0.411" stop-color="#5dcc40"/><stop offset="0.421" stop-color="#0dcc4d"/><stop offset="0.453" stop-color="#00c675"/><stop offset="0.516" stop-color="#0bbaa7"/><stop offset="0.611" stop-color="#00a9da"/><stop offset="0.684" stop-color="#008af5"/><stop offset="0.758" stop-color="#0376ff"/><stop offset="0.811" stop-color="#2d61fd"/><stop offset="0.874" stop-color="#3959fa"/><stop offset="1.000" stop-color="#4151f6"/></linearGradient><linearGradient id="g154"><stop offset="0.000" stop-color="#ffe100"/><stop offset="0.158" stop-color="#ffcd08"/><stop offset="0.221" stop-color="#ffc313"/><stop offset="0.253" stop-color="#ffb826"/><stop offset="0.295" stop-color="#feb423"/><stop offset="0.326" stop-color="#fab80d"/><stop offset="0.358" stop-color="#e1bd0d"/><stop offset="0.379" stop-color="#c4c318"/><stop offset="0.400" stop-color="#97c733"/><stop offset="0.421" stop-color="#5dcc40"/><stop offset="0.432" stop-color="#0dcc4d"/><stop offset="0.463" stop-color="#00c676"/><stop offset="0.516" stop-color="#0abba3"/><stop offset="0.558" stop-color="#05b4bd"/><stop offset="0.632" stop-color="#00a2e3"/><stop offset="0.695" stop-color="#0088f6"/><stop offset="0.758" stop-color="#0277ff"/><stop offset="0.811" stop-color="#2d61fd"/><stop offset="0.874" stop-color="#3959fa"/><stop offset="1.000" stop-color="#4151f6"/></linearGradient><linearGradient id="g155"><stop offset="0.000" stop-color="#ffea00"/><stop offset="0.179" stop-color="#ffd304"/><stop offset="0.232" stop-color="#ffc70d"/><stop offset="0.274" stop-color="#ffb826"/><stop offset="0.305" stop-color="#ffb326"/><stop offset="0.347" stop-color="#f8b80d"/><stop offset="0.368" stop-color="#e3bd0d"/><stop offset="0.389" stop-color="#c3c318"/><stop offset="0.411" stop-color="#95c734"/><stop offset="0.432" stop-color="#5bcc40"/><stop offset="0.442" stop-color="#0ccc4f"/><stop offset="0.474" stop-color="#01c678"/><stop offset="0.526" stop-color="#0bbaa7"/><stop offset="0.611" stop-color="#00aad7"/><stop offset="0.684" stop-color="#008bf4"/><stop offset="0.758" stop-color="#0177ff"/><stop offset="0.811" stop-color="#2d61fd"/><stop offset="0.863" stop-color="#3859fa"/><stop offset="1.000" stop-color="#4150f5"/></linearGradient><linearGradient id="g156"><stop offset="0.000" stop-color="#ffef00"/><stop offset="0.211" stop-color="#ffd305"/><stop offset="0.263" stop-color="#ffc118"/><stop offset="0.295" stop-color="#ffb726"/><stop offset="0.326" stop-color="#feb423"/><stop offset="0.358" stop-color="#fbb711"/><stop offset="0.379" stop-color="#debe0d"/><stop offset="0.400" stop-color="#bac41d"/><stop offset="0.421" stop-color="#83c939"/><stop offset="0.432" stop-color="#63cc40"/><stop offset="0.442" stop-color="#3acc44"/><stop offset="0.453" stop-color="#09ca59"/><stop offset="0.474" stop-color="#00c676"/><stop offset="0.526" stop-color="#0bbaa6"/><stop offset="0.558" stop-color="#06b5ba"/><stop offset="0.632" stop-color="#00a4e2"/><stop offset="0.695" stop-color="#0089f5"/><stop offset="0.758" stop-color="#0178ff"/><stop offset="0.811" stop-color="#2d61fd"/><stop offset="0.863" stop-color="#3859fa"/><stop offset="1.000" stop-color="#4150f5"/></linearGradient><linearGradient id="g157"><stop offset="0.000" stop-color="#fff300"/><stop offset="0.211" stop-color="#ffd701"/><stop offset="0.274" stop-color="#ffc117"/><stop offset="0.305" stop-color="#ffb726"/><stop offset="0.337" stop-color="#feb423"/><stop offset="0.368" stop-color="#f7b90d"/><stop offset="0.389" stop-color="#d4c010"/><stop offset="0.411" stop-color="#aac628"/><stop offset="0.432" stop-color="#6ecb3e"/><stop offset="0.442" stop-color="#53cc40"/><stop offset="0.453" stop-color="#0acb54"/><stop offset="0.474" stop-color="#00c773"/><stop offset="0.526" stop-color="#0bbaa5"/><stop offset="0.558" stop-color="#06b5bb"/><stop offset="0.632" stop-color="#00a3e2"/><stop offset="0.695" stop-color="#0088f6"/><stop offset="0.758" stop-color="#0476ff"/><stop offset="0.811" stop-color="#2f60fc"/><stop offset="0.863" stop-color="#3a58f9"/><stop offset="1.000" stop-color="#414ff4"/></linearGradient><linearGradient id="g158"><stop offset="0.000" stop-color="#fff500"/><stop offset="0.221" stop-color="#ffd801"/><stop offset="0.284" stop-color="#ffc117"/><stop offset="0.316" stop-color="#ffb726"/><stop offset="0.347" stop-color="#feb423"/><stop offset="0.368" stop-color="#fbb710"/><stop offset="0.389" stop-color="#dbbf0d"/><stop offset="0.411" stop-color="#b4c521"/><stop offset="0.432" stop-color="#7aca3b"/><stop offset="0.442" stop-color="#5bcc40"/><stop offset="0.453" stop-color="#0ccc50"/><stop offset="0.484" stop-color="#01c57c"/><stop offset="0.537" stop-color="#0db8ae"/><stop offset="0.589" stop-color="#00afcc"/><stop offset="0.642" stop-color="#009ce8"/><stop offset="0.716" stop-color="#0082fa"/><stop offset="0.747" stop-color="#0079fe"/><stop offset="0.811" stop-color="#315efc"/><stop offset="0.863" stop-color="#3c56f9"/><stop offset="1.000" stop-color="#414df3"/></linearGradient><linearGradient id="g159"><stop offset="0.000" stop-color="#fff600"/><stop offset="0.211" stop-color="#ffd900"/><stop offset="0.284" stop-color="#ffc314"/><stop offset="0.326" stop-color="#ffb726"/><stop offset="0.358" stop-color="#feb423"/><stop offset="0.368" stop-color="#fcb615"/><stop offset="0.379" stop-color="#f0ba0d"/><stop offset="0.400" stop-color="#cbc214"/><stop offset="0.421" stop-color="#9cc731"/><stop offset="0.442" stop-color="#5fcc40"/><stop offset="0.453" stop-color="#0dcc4d"/><stop offset="0.484" stop-color="#01c57b"/><stop offset="0.537" stop-color="#0cb8ae"/><stop offset="0.589" stop-color="#00aece"/><stop offset="0.642" stop-color="#009be8"/><stop offset="0.716" stop-color="#0081fa"/><stop offset="0.747" stop-color="#0078ff"/><stop offset="0.800" stop-color="#2d61fd"/><stop offset="0.832" stop-color="#3b57f9"/><stop offset="1.000" stop-color="#424cf2"/></linearGradient><linearGradient id="g160"><stop offset="0.000" stop-color="#fff600"/><stop offset="0.200" stop-color="#ffd900"/><stop offset="0.274" stop-color="#ffc412"/><stop offset="0.326" stop-color="#ffb626"/><stop offset="0.358" stop-color="#feb423"/><stop offset="0.368" stop-color="#fbb714"/><stop offset="0.389" stop-color="#dcbe0d"/><stop offset="0.411" stop-color="#b0c524"/><stop offset="0.432" stop-color="#75cb3c"/><stop offset="0.442" stop-color="#58cc40"/><stop offset="0.453" stop-color="#0ccb51"/><stop offset="0.474" stop-color="#00c772"/><stop offset="0.526" stop-color="#0bb9a8"/><stop offset="0.600" stop-color="#00abd5"/><stop offset="0.674" stop-color="#008cf4"/><stop offset="0.747" stop-color="#0277ff"/><stop offset="0.800" stop-color="#2e60fd"/><stop offset="0.832" stop-color="#3d56f9"/><stop offset="1.000" stop-color="#424bf1"/></linearGradient><linearGradient id="g161"><stop offset="0.000" stop-color="#fff500"/><stop offset="0.200" stop-color="#ffd602"/><stop offset="0.263" stop-color="#ffc412"/><stop offset="0.316" stop-color="#ffb726"/><stop offset="0.358" stop-color="#feb41f"/><stop offset="0.368" stop-color="#fbb711"/><stop offset="0.389" stop-color="#d8bf0d"/><stop offset="0.411" stop-color="#abc627"/><stop offset="0.432" stop-color="#6dcb3e"/><stop offset="0.442" stop-color="#51cc40"/><stop offset="0.453" stop-color="#0acb56"/><stop offset="0.474" stop-color="#01c677"/><stop offset="0.516" stop-color="#0abba3"/><stop offset="0.537" stop-color="#0ab7b3"/><stop offset="0.589" stop-color="#00acd2"/><stop offset="0.674" stop-color="#008bf4"/><stop offset="0.737" stop-color="#0079fe"/><stop offset="0.800" stop-color="#305efc"/><stop offset="0.832" stop-color="#3f55f8"/><stop offset="1.000" stop-color="#424af1"/></linearGradient><linearGradient id="g162"><stop offset="0.000" stop-color="#fff300"/><stop offset="0.179" stop-color="#ffd304"/><stop offset="0.274" stop-color="#ffbd1d"/><stop offset="0.316" stop-color="#ffb626"/><stop offset="0.347" stop-color="#feb421"/><stop offset="0.358" stop-color="#fdb51c"/><stop offset="0.368" stop-color="#fab80d"/><stop offset="0.389" stop-color="#d4c010"/><stop offset="0.400" stop-color="#c0c419"/><stop offset="0.421" stop-color="#86c938"/><stop offset="0.432" stop-color="#64cc40"/><stop offset="0.442" stop-color="#35cc45"/><stop offset="0.453" stop-color="#09ca5a"/><stop offset="0.474" stop-color="#01c57b"/><stop offset="0.516" stop-color="#0bbaa7"/><stop offset="0.589" stop-color="#00abd5"/><stop offset="0.663" stop-color="#008bf4"/><stop offset="0.737" stop-color="#0277ff"/><stop offset="0.789" stop-color="#2d61fd"/><stop offset="0.832" stop-color="#4053f7"/><stop offset="1.000" stop-color="#4348f0"/></linearGradient><linearGradient id="g163"><stop offset="0.000" stop-color="#fff000"/><stop offset="0.147" stop-color="#ffd404"/><stop offset="0.284" stop-color="#ffb826"/><stop offset="0.337" stop-color="#feb422"/><stop offset="0.358" stop-color="#fcb618"/><stop offset="0.368" stop-color="#f5b90d"/><stop offset="0.389" stop-color="#cbc214"/><stop offset="0.411" stop-color="#92c835"/><stop offset="0.432" stop-color="#56cc40"/><stop offset="0.442" stop-color="#0ccb51"/><stop offset="0.463" stop-color="#01c771"/><stop offset="0.505" stop-color="#09bba2"/><stop offset="0.537" stop-color="#07b5b9"/><stop offset="0.579" stop-color="#00acd3"/><stop offset="0.663" stop-color="#0089f5"/><stop offset="0.726" stop-color="#0078ff"/><stop offset="0.779" stop-color="#2a63fe"/><stop offset="0.821" stop-color="#4053f8"/><stop offset="1.000" stop-color="#4347ef"/></linearGradient><linearGradient id="g164"><stop offset="0.000" stop-color="#ffe500"/><stop offset="0.105" stop-color="#ffd205"/><stop offset="0.189" stop-color="#ffc019"/><stop offset="0.253" stop-color="#ffb726"/><stop offset="0.326" stop-color="#feb423"/><stop offset="0.358" stop-color="#fbb714"/><stop offset="0.368" stop-color="#efba0d"/><stop offset="0.379" stop-color="#d9bf0d"/><stop offset="0.389" stop-color="#c3c318"/><stop offset="0.400" stop-color="#a4c62c"/><stop offset="0.411" stop-color="#7cca3a"/><stop offset="0.421" stop-color="#5bcc40"/><stop offset="0.432" stop-color="#0ccc4f"/><stop offset="0.463" stop-color="#01c57b"/><stop offset="0.505" stop-color="#0bbaa7"/><stop offset="0.579" stop-color="#00aad6"/><stop offset="0.663" stop-color="#0087f7"/><stop offset="0.716" stop-color="#0079fe"/><stop offset="0.789" stop-color="#325dfc"/><stop offset="0.832" stop-color="#4151f6"/><stop offset="1.000" stop-color="#4346ee"/></linearGradient><linearGradient id="g165"><stop offset="0.000" stop-color="#ffd205"/><stop offset="0.126" stop-color="#ffc018"/><stop offset="0.200" stop-color="#ffb726"/><stop offset="0.305" stop-color="#ffb325"/><stop offset="0.358" stop-color="#fab80e"/><stop offset="0.379" stop-color="#d0c111"/><stop offset="0.389" stop-color="#b6c520"/><stop offset="0.400" stop-color="#92c835"/><stop offset="0.411" stop-color="#64cc40"/><stop offset="0.421" stop-color="#1fcc49"/><stop offset="0.432" stop-color="#08ca5b"/><stop offset="0.463" stop-color="#03c384"/><stop offset="0.505" stop-color="#0db8ad"/><stop offset="0.558" stop-color="#00aece"/><stop offset="0.611" stop-color="#009be8"/><stop offset="0.695" stop-color="#007cfd"/><stop offset="0.716" stop-color="#0377ff"/><stop offset="0.768" stop-color="#2b62fe"/><stop offset="0.821" stop-color="#4151f6"/><stop offset="1.000" stop-color="#4345ed"/></linearGradient><linearGradient id="g166"><stop offset="0.000" stop-color="#ffbd1d"/><stop offset="0.147" stop-color="#ffb626"/><stop offset="0.274" stop-color="#feb421"/><stop offset="0.337" stop-color="#f6b90d"/><stop offset="0.358" stop-color="#e9bc0d"/><stop offset="0.368" stop-color="#d6c00e"/><stop offset="0.379" stop-color="#bfc41a"/><stop offset="0.389" stop-color="#9dc731"/><stop offset="0.400" stop-color="#70cb3d"/><stop offset="0.411" stop-color="#38cc44"/><stop offset="0.421" stop-color="#08ca5b"/><stop offset="0.453" stop-color="#02c382"/><stop offset="0.505" stop-color="#0bb7b1"/><stop offset="0.558" stop-color="#00add2"/><stop offset="0.642" stop-color="#008af5"/><stop offset="0.705" stop-color="#0177ff"/><stop offset="0.768" stop-color="#2e60fd"/><stop offset="0.821" stop-color="#4150f5"/><stop offset="1.000" stop-color="#4444ec"/></linearGradient><linearGradient id="g167"><stop offset="0.000" stop-color="#ffb726"/><stop offset="0.221" stop-color="#ffb324"/><stop offset="0.295" stop-color="#f7b90d"/><stop offset="0.358" stop-color="#d5c00f"/><stop offset="0.368" stop-color="#c2c318"/><stop offset="0.379" stop-color="#a3c62d"/><stop offset="0.389" stop-color="#7aca3b"/><stop offset="0.400" stop-color="#53cc40"/><stop offset="0.411" stop-color="#09ca59"/><stop offset="0.442" stop-color="#02c381"/><stop offset="0.495" stop-color="#0cb7af"/><stop offset="0.558" stop-color="#00abd5"/><stop offset="0.642" stop-color="#0087f7"/><stop offset="0.695" stop-color="#0277ff"/><stop offset="0.758" stop-color="#2c61fd"/><stop offset="0.811" stop-color="#4151f6"/><stop offset="1.000" stop-color="#4443ec"/></linearGradient><linearGradient id="g168"><stop offset="0.000" stop-color="#ffb326"/><stop offset="0.221" stop-color="#f8b80d"/><stop offset="0.305" stop-color="#d4c010"/><stop offset="0.358" stop-color="#acc627"/><stop offset="0.368" stop-color="#92c835"/><stop offset="0.389" stop-color="#4fcc40"/><stop offset="0.400" stop-color="#09ca58"/><stop offset="0.432" stop-color="#02c383"/><stop offset="0.484" stop-color="#0cb8af"/><stop offset="0.537" stop-color="#00afcc"/><stop offset="0.600" stop-color="#0096ec"/><stop offset="0.684" stop-color="#0377ff"/><stop offset="0.747" stop-color="#2b62fd"/><stop offset="0.811" stop-color="#4150f5"/><stop offset="1.000" stop-color="#4442eb"/></linearGradient><linearGradient id="g169"><stop offset="0.000" stop-color="#fdb51d"/><stop offset="0.084" stop-color="#f5b90d"/><stop offset="0.211" stop-color="#d1c111"/><stop offset="0.284" stop-color="#a9c628"/><stop offset="0.358" stop-color="#6fcb3e"/><stop offset="0.368" stop-color="#58cc40"/><stop offset="0.379" stop-color="#0bcb52"/><stop offset="0.411" stop-color="#01c57c"/><stop offset="0.463" stop-color="#0cb9a9"/><stop offset="0.547" stop-color="#00aad7"/><stop offset="0.621" stop-color="#0089f5"/><stop offset="0.674" stop-color="#0576ff"/><stop offset="0.747" stop-color="#2f5ffc"/><stop offset="0.800" stop-color="#4151f6"/><stop offset="0.989" stop-color="#4442ea"/><stop offset="1.000" stop-color="#4441ea"/></linearGradient><linearGradient id="g170"><stop offset="0.000" stop-color="#e9bc0d"/><stop offset="0.074" stop-color="#ccc214"/><stop offset="0.158" stop-color="#9ec730"/><stop offset="0.232" stop-color="#67cc40"/><stop offset="0.284" stop-color="#50cc40"/><stop offset="0.305" stop-color="#28cc48"/><stop offset="0.358" stop-color="#1dcc4a"/><stop offset="0.368" stop-color="#09cb58"/><stop offset="0.389" stop-color="#00c676"/><stop offset="0.432" stop-color="#08bc9e"/><stop offset="0.463" stop-color="#0bb7b1"/><stop offset="0.526" stop-color="#00add0"/><stop offset="0.579" stop-color="#009ae9"/><stop offset="0.653" stop-color="#007afe"/><stop offset="0.726" stop-color="#2b62fd"/><stop offset="0.789" stop-color="#4052f7"/><stop offset="0.895" stop-color="#4346ee"/><stop offset="1.000" stop-color="#4440e8"/></linearGradient><linearGradient id="g171"><stop offset="0.000" stop-color="#86c938"/><stop offset="0.147" stop-color="#4dcc40"/><stop offset="0.168" stop-color="#0dcc4d"/><stop offset="0.284" stop-color="#08ca5a"/><stop offset="0.358" stop-color="#06c961"/><stop offset="0.389" stop-color="#03c287"/><stop offset="0.432" stop-color="#0cb9a9"/><stop offset="0.526" stop-color="#00abd6"/><stop offset="0.579" stop-color="#0096ec"/><stop offset="0.653" stop-color="#0277ff"/><stop offset="0.674" stop-color="#176dff"/><stop offset="0.768" stop-color="#3e55f8"/><stop offset="0.863" stop-color="#4346ee"/><stop offset="1.000" stop-color="#4440e7"/></linearGradient><linearGradient id="g172"><stop offset="0.000" stop-color="#0bcb54"/><stop offset="0.253" stop-color="#03c86c"/><stop offset="0.358" stop-color="#00c775"/><stop offset="0.411" stop-color="#0cb9a9"/><stop offset="0.516" stop-color="#00aad7"/><stop offset="0.621" stop-color="#0081fa"/><stop offset="0.642" stop-color="#0079fe"/><stop offset="0.674" stop-color="#1e69ff"/><stop offset="0.779" stop-color="#4151f6"/><stop offset="0.884" stop-color="#4345ed"/><stop offset="1.000" stop-color="#453fe7"/></linearGradient><linearGradient id="g173"><stop offset="0.000" stop-color="#05c966"/><stop offset="0.253" stop-color="#02c57d"/><stop offset="0.358" stop-color="#03c385"/><stop offset="0.411" stop-color="#0bb7b2"/><stop offset="0.495" stop-color="#00acd4"/><stop offset="0.568" stop-color="#0093ef"/><stop offset="0.642" stop-color="#0376ff"/><stop offset="0.663" stop-color="#1e69ff"/><stop offset="0.768" stop-color="#4052f7"/><stop offset="0.874" stop-color="#4344ed"/><stop offset="1.000" stop-color="#453fe6"/></linearGradient><linearGradient id="g174"><stop offset="0.000" stop-color="#01c57b"/><stop offset="0.274" stop-color="#04c18d"/><stop offset="0.358" stop-color="#06bf96"/><stop offset="0.389" stop-color="#0db8ad"/><stop offset="0.442" stop-color="#01b2c5"/><stop offset="0.537" stop-color="#009ce8"/><stop offset="0.632" stop-color="#0079ff"/><stop offset="0.663" stop-color="#2566ff"/><stop offset="0.758" stop-color="#4052f7"/><stop offset="0.874" stop-color="#4444ec"/><stop offset="1.000" stop-color="#453fe6"/></linearGradient><linearGradient id="g175"><stop offset="0.000" stop-color="#04c18e"/><stop offset="0.337" stop-color="#09bca0"/><stop offset="0.368" stop-color="#0cb9a9"/><stop offset="0.432" stop-color="#00b1c9"/><stop offset="0.526" stop-color="#009be8"/><stop offset="0.621" stop-color="#007afe"/><stop offset="0.642" stop-color="#136fff"/><stop offset="0.663" stop-color="#2963fe"/><stop offset="0.758" stop-color="#4151f6"/><stop offset="0.874" stop-color="#4443ec"/><stop offset="1.000" stop-color="#453ee5"/></linearGradient><linearGradient id="g176"><stop offset="0.000" stop-color="#08bc9e"/><stop offset="0.326" stop-color="#0cb9ab"/><stop offset="0.379" stop-color="#06b5ba"/><stop offset="0.442" stop-color="#00acd4"/><stop offset="0.526" stop-color="#0097ec"/><stop offset="0.621" stop-color="#0277ff"/><stop offset="0.663" stop-color="#2d60fd"/><stop offset="0.747" stop-color="#4151f6"/><stop offset="0.874" stop-color="#4442eb"/><stop offset="1.000" stop-color="#453ee5"/></linearGradient><linearGradient id="g177"><stop offset="0.000" stop-color="#0cb8ab"/><stop offset="0.337" stop-color="#09b6b5"/><stop offset="0.379" stop-color="#02b3c1"/><stop offset="0.432" stop-color="#00aad8"/><stop offset="0.516" stop-color="#0095ed"/><stop offset="0.611" stop-color="#0078ff"/><stop offset="0.653" stop-color="#2a62fe"/><stop offset="0.716" stop-color="#4054f8"/><stop offset="0.863" stop-color="#4442eb"/><stop offset="1.000" stop-color="#453ee4"/></linearGradient><linearGradient id="g178"><stop offset="0.000" stop-color="#09b6b5"/><stop offset="0.337" stop-color="#05b4bd"/><stop offset="0.379" stop-color="#00b1c9"/><stop offset="0.432" stop-color="#00a7df"/><stop offset="0.600" stop-color="#0079fe"/><stop offset="0.663" stop-color="#365bfb"/><stop offset="0.737" stop-color="#414ff4"/><stop offset="0.874" stop-color="#4441e9"/><stop offset="1.000" stop-color="#453de4"/></linearGradient><linearGradient id="g179"><stop offset="0.000" stop-color="#04b4be"/><stop offset="0.337" stop-color="#00b2c5"/><stop offset="0.389" stop-color="#00aad7"/><stop offset="0.442" stop-color="#009fe5"/><stop offset="0.600" stop-color="#0476ff"/><stop offset="0.642" stop-color="#2b62fd"/><stop offset="0.684" stop-color="#3e55f8"/><stop offset="0.863" stop-color="#4441e9"/><stop offset="1.000" stop-color="#453de3"/></linearGradient><linearGradient id="g180"><stop offset="0.000" stop-color="#00b2c6"/><stop offset="0.326" stop-color="#00afcd"/><stop offset="0.379" stop-color="#00a9da"/><stop offset="0.432" stop-color="#009ae9"/><stop offset="0.589" stop-color="#0177ff"/><stop offset="0.642" stop-color="#2e60fd"/><stop offset="0.684" stop-color="#4054f8"/><stop offset="0.874" stop-color="#4440e8"/><stop offset="1.000" stop-color="#453ce3"/></linearGradient><linearGradient id="g181"><stop offset="0.000" stop-color="#00aece"/><stop offset="0.326" stop-color="#00acd4"/><stop offset="0.368" stop-color="#00a8db"/><stop offset="0.432" stop-color="#0094ee"/><stop offset="0.579" stop-color="#0078ff"/><stop offset="0.632" stop-color="#2b62fd"/><stop offset="0.674" stop-color="#4054f8"/><stop offset="0.874" stop-color="#453fe7"/><stop offset="1.000" stop-color="#453ce2"/></linearGradient><linearGradient id="g182"><stop offset="0.000" stop-color="#00abd6"/><stop offset="0.305" stop-color="#00aad7"/><stop offset="0.379" stop-color="#00a1e4"/><stop offset="0.432" stop-color="#0090f1"/><stop offset="0.579" stop-color="#0476ff"/><stop offset="0.632" stop-color="#2e60fd"/><stop offset="0.674" stop-color="#4053f7"/><stop offset="0.874" stop-color="#453fe6"/><stop offset="1.000" stop-color="#453ce1"/></linearGradient><linearGradient id="g183"><stop offset="0.000" stop-color="#00a9d9"/><stop offset="0.305" stop-color="#00a8dc"/><stop offset="0.368" stop-color="#00a0e5"/><stop offset="0.432" stop-color="#008df3"/><stop offset="0.568" stop-color="#0078ff"/><stop offset="0.621" stop-color="#2a62fe"/><stop offset="0.663" stop-color="#4053f7"/><stop offset="0.874" stop-color="#453ee5"/><stop offset="1.000" stop-color="#453be1"/></linearGradient><linearGradient id="g184"><stop offset="0.000" stop-color="#00a8dc"/><stop offset="0.316" stop-color="#00a3e2"/><stop offset="0.389" stop-color="#0093ef"/><stop offset="0.568" stop-color="#0377ff"/><stop offset="0.621" stop-color="#2d61fd"/><stop offset="0.663" stop-color="#4052f6"/><stop offset="0.874" stop-color="#453ee5"/><stop offset="1.000" stop-color="#453be0"/></linearGradient><linearGradient id="g185"><stop offset="0.000" stop-color="#00a6df"/><stop offset="0.316" stop-color="#009ee6"/><stop offset="0.453" stop-color="#0085f8"/><stop offset="0.558" stop-color="#0078ff"/><stop offset="0.621" stop-color="#2f5ffc"/><stop offset="0.663" stop-color="#4150f5"/><stop offset="0.874" stop-color="#453de4"/><stop offset="1.000" stop-color="#453be0"/></linearGradient><linearGradient id="g186"><stop offset="0.000" stop-color="#00a4e2"/><stop offset="0.316" stop-color="#0099ea"/><stop offset="0.474" stop-color="#0080fa"/><stop offset="0.558" stop-color="#0376ff"/><stop offset="0.611" stop-color="#2c61fd"/><stop offset="0.653" stop-color="#4053f7"/><stop offset="0.863" stop-color="#453de3"/><stop offset="1.000" stop-color="#463adf"/></linearGradient><linearGradient id="g187"><stop offset="0.000" stop-color="#00a1e4"/><stop offset="0.316" stop-color="#0094ee"/><stop offset="0.484" stop-color="#007dfc"/><stop offset="0.547" stop-color="#0376ff"/><stop offset="0.632" stop-color="#3959fa"/><stop offset="0.684" stop-color="#424bf2"/><stop offset="0.895" stop-color="#453ce2"/><stop offset="1.000" stop-color="#463adf"/></linearGradient><linearGradient id="cb" x1="0" y1="0" x2="0" y2="1"><stop offset="0.0000" stop-color="#fff800"/><stop offset="0.0156" stop-color="#fff400"/><stop offset="0.0312" stop-color="#ffef00"/><stop offset="0.0469" stop-color="#ffeb00"/><stop offset="0.0625" stop-color="#ffe400"/><stop offset="0.0781" stop-color="#ffdd00"/><stop offset="0.0938" stop-color="#ffd503"/><stop offset="0.1094" stop-color="#ffcc09"/><stop offset="0.1250" stop-color="#ffc413"/><stop offset="0.1406" stop-color="#ffbb21"/><stop offset="0.1562" stop-color="#ffb626"/><stop offset="0.1719" stop-color="#feb423"/><stop offset="0.1875" stop-color="#fcb616"/><stop offset="0.2031" stop-color="#f5b90d"/><stop offset="0.2188" stop-color="#e6bc0d"/><stop offset="0.2344" stop-color="#d7bf0e"/><stop offset="0.2500" stop-color="#c8c215"/><stop offset="0.2656" stop-color="#b7c51f"/><stop offset="0.2812" stop-color="#a1c62e"/><stop offset="0.2969" stop-color="#87c938"/><stop offset="0.3125" stop-color="#69cc3f"/><stop offset="0.3281" stop-color="#52cc40"/><stop offset="0.3438" stop-color="#0bcb53"/><stop offset="0.3594" stop-color="#06c960"/><stop offset="0.3750" stop-color="#02c86e"/><stop offset="0.3906" stop-color="#01c679"/><stop offset="0.4062" stop-color="#02c383"/><stop offset="0.4219" stop-color="#04c18d"/><stop offset="0.4375" stop-color="#06be96"/><stop offset="0.4531" stop-color="#08bc9d"/><stop offset="0.4688" stop-color="#0abaa4"/><stop offset="0.4844" stop-color="#0db8ac"/><stop offset="0.5000" stop-color="#0bb7b2"/><stop offset="0.5156" stop-color="#08b5b7"/><stop offset="0.5312" stop-color="#05b4bd"/><stop offset="0.5469" stop-color="#01b3c3"/><stop offset="0.5625" stop-color="#00b0c9"/><stop offset="0.5781" stop-color="#00add0"/><stop offset="0.5938" stop-color="#00aad7"/><stop offset="0.6094" stop-color="#00a7dd"/><stop offset="0.6250" stop-color="#00a2e3"/><stop offset="0.6406" stop-color="#009ce8"/><stop offset="0.6562" stop-color="#0096ed"/><stop offset="0.6719" stop-color="#0090f2"/><stop offset="0.6875" stop-color="#008bf4"/><stop offset="0.7031" stop-color="#0086f7"/><stop offset="0.7188" stop-color="#0082f9"/><stop offset="0.7344" stop-color="#007dfc"/><stop offset="0.7500" stop-color="#0079ff"/><stop offset="0.7656" stop-color="#0d72ff"/><stop offset="0.7812" stop-color="#1d6aff"/><stop offset="0.7969" stop-color="#2963fe"/><stop offset="0.8125" stop-color="#335dfb"/><stop offset="0.8281" stop-color="#3c56f9"/><stop offset="0.8438" stop-color="#4150f5"/><stop offset="0.8594" stop-color="#424af1"/><stop offset="0.8750" stop-color="#4344ed"/><stop offset="0.8906" stop-color="#453fe6"/><stop offset="0.9062" stop-color="#463adf"/><stop offset="0.9219" stop-color="#4735d7"/><stop offset="0.9375" stop-color="#4730d0"/><stop offset="0.9531" stop-color="#462cc9"/><stop offset="0.9688" stop-color="#4529c3"/><stop offset="0.9844" stop-color="#4324b5"/><stop offset="1.0000" stop-color="#3f20a8"/></linearGradient>
</defs>
<g clip-path="url(#pc)"><rect x="69.0" y="17.30" width="377.5" height="2.60" fill="url(#g0)"/><rect x="69.0" y="19.30" width="377.5" height="2.60" fill="url(#g1)"/><rect x="69.0" y="21.30" width="377.5" height="2.60" fill="url(#g2)"/><rect x="69.0" y="23.30" width="377.5" height="2.60" fill="url(#g3)"/><rect x="69.0" y="25.30" width="377.5" height="2.60" fill="url(#g4)"/><rect x="69.0" y="27.30" width="377.5" height="2.60" fill="url(#g5)"/><rect x="69.0" y="29.30" width="377.5" height="2.60" fill="url(#g6)"/><rect x="69.0" y="31.30" width="377.5" height="2.60" fill="url(#g7)"/><rect x="69.0" y="33.30" width="377.5" height="2.60" fill="url(#g8)"/><rect x="69.0" y="35.30" width="377.5" height="2.60" fill="url(#g9)"/><rect x="69.0" y="37.30" width="377.5" height="2.60" fill="url(#g10)"/><rect x="69.0" y="39.30" width="377.5" height="2.60" fill="url(#g11)"/><rect x="69.0" y="41.30" width="377.5" height="2.60" fill="url(#g12)"/><rect x="69.0" y="43.30" width="377.5" height="2.60" fill="url(#g13)"/><rect x="69.0" y="45.30" width="377.5" height="2.60" fill="url(#g14)"/><rect x="69.0" y="47.30" width="377.5" height="2.60" fill="url(#g15)"/><rect x="69.0" y="49.30" width="377.5" height="2.60" fill="url(#g16)"/><rect x="69.0" y="51.30" width="377.5" height="2.60" fill="url(#g17)"/><rect x="69.0" y="53.30" width="377.5" height="2.60" fill="url(#g18)"/><rect x="69.0" y="55.30" width="377.5" height="2.60" fill="url(#g19)"/><rect x="69.0" y="57.30" width="377.5" height="2.60" fill="url(#g20)"/><rect x="69.0" y="59.30" width="377.5" height="2.60" fill="#472dca"/><rect x="69.0" y="61.30" width="377.5" height="2.60" fill="url(#g22)"/><rect x="69.0" y="63.30" width="377.5" height="2.60" fill="url(#g23)"/><rect x="69.0" y="65.30" width="377.5" height="2.60" fill="url(#g24)"/><rect x="69.0" y="67.30" width="377.5" height="2.60" fill="url(#g25)"/><rect x="69.0" y="69.30" width="377.5" height="2.60" fill="url(#g26)"/><rect x="69.0" y="71.30" width="377.5" height="2.60" fill="url(#g27)"/><rect x="69.0" y="73.30" width="377.5" height="2.60" fill="url(#g28)"/><rect x="69.0" y="75.30" width="377.5" height="2.60" fill="url(#g29)"/><rect x="69.0" y="77.30" width="377.5" height="2.60" fill="url(#g30)"/><rect x="69.0" y="79.30" width="377.5" height="2.60" fill="url(#g31)"/><rect x="69.0" y="81.30" width="377.5" height="2.60" fill="url(#g32)"/><rect x="69.0" y="83.30" width="377.5" height="2.60" fill="url(#g33)"/><rect x="69.0" y="85.30" width="377.5" height="2.60" fill="url(#g34)"/><rect x="69.0" y="87.30" width="377.5" height="2.60" fill="url(#g35)"/><rect x="69.0" y="89.30" width="377.5" height="2.60" fill="url(#g36)"/><rect x="69.0" y="91.30" width="377.5" height="2.60" fill="url(#g37)"/><rect x="69.0" y="93.30" width="377.5" height="2.60" fill="url(#g38)"/><rect x="69.0" y="95.30" width="377.5" height="2.60" fill="url(#g39)"/><rect x="69.0" y="97.30" width="377.5" height="2.60" fill="url(#g40)"/><rect x="69.0" y="99.30" width="377.5" height="2.60" fill="url(#g41)"/><rect x="69.0" y="101.30" width="377.5" height="2.60" fill="url(#g42)"/><rect x="69.0" y="103.30" width="377.5" height="2.60" fill="url(#g43)"/><rect x="69.0" y="105.30" width="377.5" height="2.60" fill="url(#g44)"/><rect x="69.0" y="107.30" width="377.5" height="2.60" fill="url(#g45)"/><rect x="69.0" y="109.30" width="377.5" height="2.60" fill="url(#g46)"/><rect x="69.0" y="111.30" width="377.5" height="2.60" fill="url(#g47)"/><rect x="69.0" y="113.30" width="377.5" height="2.60" fill="url(#g48)"/><rect x="69.0" y="115.30" width="377.5" height="2.60" fill="url(#g49)"/><rect x="69.0" y="117.30" width="377.5" height="2.60" fill="url(#g50)"/><rect x="69.0" y="119.30" width="377.5" height="2.60" fill="url(#g51)"/><rect x="69.0" y="121.30" width="377.5" height="2.60" fill="url(#g52)"/><rect x="69.0" y="123.30" width="377.5" height="2.60" fill="url(#g53)"/><rect x="69.0" y="125.30" width="377.5" height="2.60" fill="url(#g54)"/><rect x="69.0" y="127.30" width="377.5" height="2.60" fill="url(#g55)"/><rect x="69.0" y="129.30" width="377.5" height="2.60" fill="url(#g56)"/><rect x="69.0" y="131.30" width="377.5" height="2.60" fill="url(#g57)"/><rect x="69.0" y="133.30" width="377.5" height="2.60" fill="url(#g58)"/><rect x="69.0" y="135.30" width="377.5" height="2.60" fill="url(#g59)"/><rect x="69.0" y="137.30" width="377.5" height="2.60" fill="url(#g60)"/><rect x="69.0" y="139.30" width="377.5" height="2.60" fill="url(#g61)"/><rect x="69.0" y="141.30" width="377.5" height="2.60" fill="url(#g62)"/><rect x="69.0" y="143.30" width="377.5" height="2.60" fill="url(#g63)"/><rect x="69.0" y="145.30" width="377.5" height="2.60" fill="url(#g64)"/><rect x="69.0" y="147.30" width="377.5" height="2.60" fill="url(#g65)"/><rect x="69.0" y="149.30" width="377.5" height="2.60" fill="url(#g66)"/><rect x="69.0" y="151.30" width="377.5" height="2.60" fill="url(#g67)"/><rect x="69.0" y="153.30" width="377.5" height="2.60" fill="url(#g68)"/><rect x="69.0" y="155.30" width="377.5" height="2.60" fill="url(#g69)"/><rect x="69.0" y="157.30" width="377.5" height="2.60" fill="url(#g70)"/><rect x="69.0" y="159.30" width="377.5" height="2.60" fill="url(#g71)"/><rect x="69.0" y="161.30" width="377.5" height="2.60" fill="url(#g72)"/><rect x="69.0" y="163.30" width="377.5" height="2.60" fill="url(#g73)"/><rect x="69.0" y="165.30" width="377.5" height="2.60" fill="url(#g74)"/><rect x="69.0" y="167.30" width="377.5" height="2.60" fill="url(#g75)"/><rect x="69.0" y="169.30" width="377.5" height="2.60" fill="url(#g76)"/><rect x="69.0" y="171.30" width="377.5" height="2.60" fill="url(#g77)"/><rect x="69.0" y="173.30" width="377.5" height="2.60" fill="url(#g78)"/><rect x="69.0" y="175.30" width="377.5" height="2.60" fill="url(#g79)"/><rect x="69.0" y="177.30" width="377.5" height="2.60" fill="url(#g80)"/><rect x="69.0" y="179.30" width="377.5" height="2.60" fill="url(#g81)"/><rect x="69.0" y="181.30" width="377.5" height="2.60" fill="url(#g82)"/><rect x="69.0" y="183.30" width="377.5" height="2.60" fill="url(#g83)"/><rect x="69.0" y="185.30" width="377.5" height="2.60" fill="url(#g84)"/><rect x="69.0" y="187.30" width="377.5" height="2.60" fill="url(#g85)"/><rect x="69.0" y="189.30" width="377.5" height="2.60" fill="url(#g86)"/><rect x="69.0" y="191.30" width="377.5" height="2.60" fill="url(#g87)"/><rect x="69.0" y="193.30" width="377.5" height="2.60" fill="url(#g88)"/><rect x="69.0" y="195.30" width="377.5" height="2.60" fill="url(#g89)"/><rect x="69.0" y="197.30" width="377.5" height="2.60" fill="url(#g90)"/><rect x="69.0" y="199.30" width="377.5" height="2.60" fill="url(#g91)"/><rect x="69.0" y="201.30" width="377.5" height="2.60" fill="url(#g92)"/><rect x="69.0" y="203.30" width="377.5" height="2.60" fill="url(#g93)"/><rect x="69.0" y="205.30" width="377.5" height="2.60" fill="url(#g94)"/><rect x="69.0" y="207.30" width="377.5" height="2.60" fill="url(#g95)"/><rect x="69.0" y="209.30" width="377.5" height="2.60" fill="url(#g96)"/><rect x="69.0" y="211.30" width="377.5" height="2.60" fill="url(#g97)"/><rect x="69.0" y="213.30" width="377.5" height="2.60" fill="url(#g98)"/><rect x="69.0" y="215.30" width="377.5" height="2.60" fill="url(#g99)"/><rect x="69.0" y="217.30" width="377.5" height="2.60" fill="url(#g100)"/><rect x="69.0" y="219.30" width="377.5" height="2.60" fill="url(#g101)"/><rect x="69.0" y="221.30" width="377.5" height="2.60" fill="url(#g102)"/><rect x="69.0" y="223.30" width="377.5" height="2.60" fill="url(#g103)"/><rect x="69.0" y="225.30" width="377.5" height="2.60" fill="url(#g104)"/><rect x="69.0" y="227.30" width="377.5" height="2.60" fill="url(#g105)"/><rect x="69.0" y="229.30" width="377.5" height="2.60" fill="url(#g106)"/><rect x="69.0" y="231.30" width="377.5" height="2.60" fill="url(#g107)"/><rect x="69.0" y="233.30" width="377.5" height="2.60" fill="url(#g108)"/><rect x="69.0" y="235.30" width="377.5" height="2.60" fill="url(#g109)"/><rect x="69.0" y="237.30" width="377.5" height="2.60" fill="url(#g110)"/><rect x="69.0" y="239.30" width="377.5" height="2.60" fill="url(#g111)"/><rect x="69.0" y="241.30" width="377.5" height="2.60" fill="url(#g112)"/><rect x="69.0" y="243.30" width="377.5" height="2.60" fill="url(#g113)"/><rect x="69.0" y="245.30" width="377.5" height="2.60" fill="url(#g114)"/><rect x="69.0" y="247.30" width="377.5" height="2.60" fill="url(#g115)"/><rect x="69.0" y="249.30" width="377.5" height="2.60" fill="url(#g116)"/><rect x="69.0" y="251.30" width="377.5" height="2.60" fill="url(#g117)"/><rect x="69.0" y="253.30" width="377.5" height="2.60" fill="url(#g118)"/><rect x="69.0" y="255.30" width="377.5" height="2.60" fill="#472dca"/><rect x="69.0" y="257.30" width="377.5" height="2.60" fill="url(#g120)"/><rect x="69.0" y="259.30" width="377.5" height="2.60" fill="url(#g121)"/><rect x="69.0" y="261.30" width="377.5" height="2.60" fill="url(#g122)"/><rect x="69.0" y="263.30" width="377.5" height="2.60" fill="url(#g123)"/><rect x="69.0" y="265.30" width="377.5" height="2.60" fill="url(#g124)"/><rect x="69.0" y="267.30" width="377.5" height="2.60" fill="url(#g125)"/><rect x="69.0" y="269.30" width="377.5" height="2.60" fill="url(#g126)"/><rect x="69.0" y="271.30" width="377.5" height="2.60" fill="url(#g127)"/><rect x="69.0" y="273.30" width="377.5" height="2.60" fill="url(#g128)"/><rect x="69.0" y="275.30" width="377.5" height="2.60" fill="url(#g129)"/><rect x="69.0" y="277.30" width="377.5" height="2.60" fill="url(#g130)"/><rect x="69.0" y="279.30" width="377.5" height="2.60" fill="url(#g131)"/><rect x="69.0" y="281.30" width="377.5" height="2.60" fill="url(#g132)"/><rect x="69.0" y="283.30" width="377.5" height="2.60" fill="url(#g133)"/><rect x="69.0" y="285.30" width="377.5" height="2.60" fill="url(#g134)"/><rect x="69.0" y="287.30" width="377.5" height="2.60" fill="url(#g135)"/><rect x="69.0" y="289.30" width="377.5" height="2.60" fill="url(#g136)"/><rect x="69.0" y="291.30" width="377.5" height="2.60" fill="url(#g137)"/><rect x="69.0" y="293.30" width="377.5" height="2.60" fill="url(#g138)"/><rect x="69.0" y="295.30" width="377.5" height="2.60" fill="url(#g139)"/><rect x="69.0" y="297.30" width="377.5" height="2.60" fill="url(#g140)"/><rect x="69.0" y="299.30" width="377.5" height="2.60" fill="url(#g141)"/><rect x="69.0" y="301.30" width="377.5" height="2.60" fill="url(#g142)"/><rect x="69.0" y="303.30" width="377.5" height="2.60" fill="url(#g143)"/><rect x="69.0" y="305.30" width="377.5" height="2.60" fill="url(#g144)"/><rect x="69.0" y="307.30" width="377.5" height="2.60" fill="url(#g145)"/><rect x="69.0" y="309.30" width="377.5" height="2.60" fill="url(#g146)"/><rect x="69.0" y="311.30" width="377.5" height="2.60" fill="url(#g147)"/><rect x="69.0" y="313.30" width="377.5" height="2.60" fill="url(#g148)"/><rect x="69.0" y="315.30" width="377.5" height="2.60" fill="url(#g149)"/><rect x="69.0" y="317.30" width="377.5" height="2.60" fill="url(#g150)"/><rect x="69.0" y="319.30" width="377.5" height="2.60" fill="url(#g151)"/><rect x="69.0" y="321.30" width="377.5" height="2.60" fill="url(#g152)"/><rect x="69.0" y="323.30" width="377.5" height="2.60" fill="url(#g153)"/><rect x="69.0" y="325.30" width="377.5" height="2.60" fill="url(#g154)"/><rect x="69.0" y="327.30" width="377.5" height="2.60" fill="url(#g155)"/><rect x="69.0" y="329.30" width="377.5" height="2.60" fill="url(#g156)"/><rect x="69.0" y="331.30" width="377.5" height="2.60" fill="url(#g157)"/><rect x="69.0" y="333.30" width="377.5" height="2.60" fill="url(#g158)"/><rect x="69.0" y="335.30" width="377.5" height="2.60" fill="url(#g159)"/><rect x="69.0" y="337.30" width="377.5" height="2.60" fill="url(#g160)"/><rect x="69.0" y="339.30" width="377.5" height="2.60" fill="url(#g161)"/><rect x="69.0" y="341.30" width="377.5" height="2.60" fill="url(#g162)"/><rect x="69.0" y="343.30" width="377.5" height="2.60" fill="url(#g163)"/><rect x="69.0" y="345.30" width="377.5" height="2.60" fill="url(#g164)"/><rect x="69.0" y="347.30" width="377.5" height="2.60" fill="url(#g165)"/><rect x="69.0" y="349.30" width="377.5" height="2.60" fill="url(#g166)"/><rect x="69.0" y="351.30" width="377.5" height="2.60" fill="url(#g167)"/><rect x="69.0" y="353.30" width="377.5" height="2.60" fill="url(#g168)"/><rect x="69.0" y="355.30" width="377.5" height="2.60" fill="url(#g169)"/><rect x="69.0" y="357.30" width="377.5" height="2.60" fill="url(#g170)"/><rect x="69.0" y="359.30" width="377.5" height="2.60" fill="url(#g171)"/><rect x="69.0" y="361.30" width="377.5" height="2.60" fill="url(#g172)"/><rect x="69.0" y="363.30" width="377.5" height="2.60" fill="url(#g173)"/><rect x="69.0" y="365.30" width="377.5" height="2.60" fill="url(#g174)"/><rect x="69.0" y="367.30" width="377.5" height="2.60" fill="url(#g175)"/><rect x="69.0" y="369.30" width="377.5" height="2.60" fill="url(#g176)"/><rect x="69.0" y="371.30" width="377.5" height="2.60" fill="url(#g177)"/><rect x="69.0" y="373.30" width="377.5" height="2.60" fill="url(#g178)"/><rect x="69.0" y="375.30" width="377.5" height="2.60" fill="url(#g179)"/><rect x="69.0" y="377.30" width="377.5" height="2.60" fill="url(#g180)"/><rect x="69.0" y="379.30" width="377.5" height="2.60" fill="url(#g181)"/><rect x="69.0" y="381.30" width="377.5" height="2.60" fill="url(#g182)"/><rect x="69.0" y="383.30" width="377.5" height="2.60" fill="url(#g183)"/><rect x="69.0" y="385.30" width="377.5" height="2.60" fill="url(#g184)"/><rect x="69.0" y="387.30" width="377.5" height="2.60" fill="url(#g185)"/><rect x="69.0" y="389.30" width="377.5" height="2.60" fill="url(#g186)"/><rect x="69.0" y="391.30" width="377.5" height="2.60" fill="url(#g187)"/>
<path d="M71.7 391.3L59.7 391.3M85.9 391.3L73.9 391.3M100.0 391.3L88.0 391.3M114.2 391.3L102.2 391.3M128.3 391.3L116.3 391.3M142.4 391.3L130.4 391.3M156.6 391.3L144.6 391.3M170.8 391.3L158.8 391.3M184.9 391.3L172.9 391.3M199.1 391.3L187.1 391.3M213.2 391.3L201.2 391.3M227.4 391.3L215.4 391.3M241.5 391.3L229.5 391.3M255.7 391.3L243.7 391.3M269.8 391.3L257.8 391.3M283.9 391.3L271.9 391.3M298.1 391.3L286.1 391.3M312.2 391.3L300.2 391.3M326.4 391.3L314.4 391.3M340.6 391.3L328.6 391.3M354.7 391.3L342.7 391.3M368.9 391.3L356.9 391.3M383.0 391.3L371.0 391.3M397.1 391.3L385.1 391.3M411.3 391.3L399.3 391.3M425.4 391.3L413.4 391.3M439.6 391.3L427.6 391.3M71.7 376.4L59.5 376.4M85.9 376.4L73.7 376.4M100.0 376.4L87.8 376.4M114.2 376.4L102.0 376.4M128.3 376.4L116.1 376.4M142.4 376.4L130.2 376.4M156.6 376.4L144.4 376.4M170.8 376.4L158.6 376.4M184.9 376.4L172.7 376.4M199.1 376.4L186.9 376.4M213.2 376.4L201.0 376.4M227.4 376.4L215.2 376.4M241.5 376.4L229.3 376.4M255.7 376.4L243.5 376.4M269.8 376.4L257.6 376.4M283.9 376.4L271.8 376.4M298.1 376.4L285.9 376.4M312.2 376.4L300.1 376.4M326.4 376.4L314.2 376.4M340.6 376.4L328.4 376.4M354.7 376.4L342.5 376.4M368.9 376.4L356.7 376.4M383.0 376.4L370.8 376.4M397.1 376.4L384.9 376.4M411.3 376.4L399.1 376.4M425.4 376.4L413.2 376.4M439.6 376.4L427.4 376.4M71.7 362.3L59.5 362.3M85.9 362.3L73.7 362.3M100.0 362.3L87.8 362.3M114.2 362.3L102.0 362.3M128.3 362.3L116.1 362.3M142.4 362.3L130.2 362.3M156.6 362.3L144.4 362.3M170.8 362.3L158.6 362.3M184.9 362.3L172.7 362.3M199.1 362.3L186.9 362.3M213.2 362.3L201.0 362.3M227.4 362.3L215.2 362.3M241.5 362.3L229.3 362.3M255.7 362.3L243.5 362.3M269.8 362.3L257.6 362.3M283.9 362.3L271.8 362.6M298.1 362.3L286.0 362.9M312.2 362.3L300.2 363.1M326.4 362.3L314.3 363.4M340.6 362.3L328.5 363.7M354.7 362.3L342.8 363.9M368.9 362.3L357.0 364.2M383.0 362.3L371.2 364.4M397.1 362.3L385.4 364.5M411.3 362.3L399.5 364.6M425.4 362.3L413.7 364.7M439.6 362.3L427.9 364.8M71.7 348.3L58.7 348.3M85.9 348.3L73.0 348.3M100.0 348.3L87.2 348.3M114.2 348.3L101.5 348.3M128.3 348.3L115.7 348.3M142.4 348.3L129.9 348.3M156.6 348.3L144.3 348.7M170.8 348.3L158.6 349.1M184.9 348.3L173.0 349.5M199.1 348.3L187.4 349.9M213.2 348.3L201.8 350.3M227.4 348.3L216.0 350.4M241.5 348.3L230.2 350.5M255.7 348.3L244.4 350.6M269.8 348.3L258.6 350.7M283.9 348.3L272.5 351.0M298.1 348.3L286.4 351.3M312.2 348.3L300.3 351.7M326.4 348.3L314.2 352.1M340.6 348.3L328.2 352.5M354.7 348.3L342.2 352.9M368.9 348.3L356.1 353.3M383.0 348.3L370.1 353.7M397.1 348.3L384.3 353.7M411.3 348.3L398.4 353.7M425.4 348.3L412.6 353.7M439.6 348.3L426.7 353.7M71.7 334.2L84.7 334.2M85.9 334.2L98.8 334.4M100.0 334.2L113.0 334.6M114.2 334.2L127.1 334.9M128.3 334.2L141.4 335.4M142.4 334.2L155.7 336.0M156.6 334.2L169.9 336.5M170.8 334.2L184.0 337.7M184.9 334.2L198.1 339.0M199.1 334.2L211.6 341.1M213.2 334.2L224.7 343.2M227.4 334.2L238.6 344.1M241.5 334.2L252.6 345.0M255.7 334.2L267.0 345.5M269.8 334.2L281.1 346.3M283.9 334.2L295.2 347.2M298.1 334.2L309.3 348.0M312.2 334.2L323.3 348.9M326.4 334.2L337.3 349.7M340.6 334.2L350.6 350.6M354.7 334.2L363.9 351.4M368.9 334.2L377.0 352.2M383.0 334.2L390.2 352.9M397.1 334.2L404.0 353.5M411.3 334.2L417.8 354.2M425.4 334.2L431.6 354.8M439.6 334.2L445.3 355.4M71.7 320.1L84.7 320.1M85.9 320.1L98.9 320.1M100.0 320.1L113.0 320.1M114.2 320.1L127.2 320.1M128.3 320.1L141.3 320.1M142.4 320.1L155.4 320.1M156.6 320.1L169.6 320.1M170.8 320.1L183.8 320.1M184.9 320.1L197.9 320.1M199.1 320.1L212.1 320.1M213.2 320.1L226.2 320.1M227.4 320.1L240.4 320.1M241.5 320.1L254.5 320.1M255.7 320.1L268.7 320.1M269.8 320.1L282.8 320.1M283.9 320.1L296.8 320.5M298.1 320.1L310.8 320.8M312.2 320.1L324.8 321.2M326.4 320.1L338.8 321.5M340.6 320.1L352.8 321.8M354.7 320.1L366.8 322.2M368.9 320.1L380.7 322.5M383.0 320.1L394.7 322.8M397.1 320.1L408.8 322.9M411.3 320.1L422.9 323.0M425.4 320.1L437.1 323.1M439.6 320.1L451.2 323.2M71.7 306.0L84.7 306.0M85.9 306.0L98.9 306.0M100.0 306.0L113.0 306.0M114.2 306.0L127.2 306.0M128.3 306.0L141.3 306.0M142.4 306.0L155.4 306.0M156.6 306.0L169.6 306.0M170.8 306.0L183.8 306.0M184.9 306.0L197.9 306.0M199.1 306.0L212.1 306.0M213.2 306.0L226.2 306.0M227.4 306.0L240.4 306.0M241.5 306.0L254.5 306.0M255.7 306.0L268.7 306.0M269.8 306.0L282.8 306.0M283.9 306.0L296.9 306.0M298.1 306.0L311.1 306.0M312.2 306.0L325.2 306.0M326.4 306.0L339.4 306.0M340.6 306.0L353.6 306.0M354.7 306.0L367.7 306.0M368.9 306.0L381.9 306.0M383.0 306.0L396.0 306.0M397.1 306.0L410.1 306.0M411.3 306.0L424.3 306.0M425.4 306.0L438.4 306.0M439.6 306.0L452.6 306.0M71.7 291.9L84.7 291.9M85.9 291.9L98.8 291.9M100.0 291.9L113.0 291.8M114.2 291.9L127.1 291.8M128.3 291.9L141.3 291.8M142.4 291.9L155.4 291.7M156.6 291.9L169.6 291.7M170.8 291.9L183.7 291.6M184.9 291.9L197.9 291.6M199.1 291.9L212.0 291.5M213.2 291.9L226.2 291.5M227.4 291.9L240.3 291.3M241.5 291.9L254.5 291.2M255.7 291.9L268.6 291.0M269.8 291.9L282.8 290.8M283.9 291.9L296.9 290.7M298.1 291.9L311.0 290.5M312.2 291.9L325.2 290.4M326.4 291.9L339.3 290.3M340.6 291.9L353.4 290.2M354.7 291.9L367.6 290.1M368.9 291.9L381.7 290.1M383.0 291.9L395.9 290.0M397.1 291.9L410.0 289.9M411.3 291.9L424.1 289.8M425.4 291.9L438.3 289.8M439.6 291.9L452.4 289.7M71.7 277.9L84.7 277.9M85.9 277.9L98.8 277.8M100.0 277.9L113.0 277.7M114.2 277.9L127.1 277.6M128.3 277.9L141.3 277.5M142.4 277.9L155.4 277.4M156.6 277.9L169.6 277.3M170.8 277.9L183.7 277.2M184.9 277.9L197.9 277.1M199.1 277.9L212.0 277.0M213.2 277.9L226.2 276.6M227.4 277.9L240.4 276.1M241.5 277.9L254.5 275.7M255.7 277.9L268.7 275.3M269.8 277.9L282.8 274.9M283.9 277.9L296.9 274.5M298.1 277.9L311.0 274.1M312.2 277.9L325.1 273.7M326.4 277.9L339.2 273.5M340.6 277.9L353.4 273.3M354.7 277.9L367.5 273.1M368.9 277.9L381.7 272.9M383.0 277.9L395.8 272.7M397.1 277.9L409.9 272.5M411.3 277.9L424.0 272.3M425.4 277.9L438.2 272.1M439.6 277.9L452.3 271.9M71.7 263.8L84.7 263.8M85.9 263.8L98.8 263.6M100.0 263.8L113.0 263.5M114.2 263.8L127.1 263.4M128.3 263.8L141.3 263.2M142.4 263.8L155.4 263.1M156.6 263.8L169.6 262.7M170.8 263.8L183.7 262.3M184.9 263.8L197.8 261.9M199.1 263.8L211.9 261.5M213.2 263.8L226.1 260.6M227.4 263.8L240.2 259.7M241.5 263.8L254.3 258.8M255.7 263.8L268.3 257.9M269.8 263.8L282.3 256.9M283.9 263.8L296.2 256.0M298.1 263.8L310.0 255.1M312.2 263.8L323.7 254.1M326.4 263.8L337.8 253.5M340.6 263.8L351.9 252.8M354.7 263.8L366.0 252.1M368.9 263.8L380.0 251.4M383.0 263.8L393.9 250.8M397.1 263.8L407.8 249.9M411.3 263.8L421.6 249.0M425.4 263.8L435.4 248.2M439.6 263.8L449.1 247.3M71.7 249.7L84.7 249.7M85.9 249.7L98.7 247.4M100.0 249.7L112.6 244.9M114.2 249.7L126.9 241.8M128.3 249.7L140.2 239.0M142.4 249.7L152.5 237.3M156.6 249.7L166.0 236.8M170.8 249.7L180.1 236.4M184.9 249.7L194.1 236.0M199.1 249.7L208.2 235.7M213.2 249.7L222.2 235.3M227.4 249.7L236.5 233.2M241.5 249.7L250.5 231.0M255.7 249.7L264.3 228.9M269.8 249.7L277.9 226.7M283.9 249.7L291.3 224.5M298.1 249.7L304.5 222.3M312.2 249.7L317.5 220.2M326.4 249.7L331.5 220.1M340.6 249.7L345.5 220.1M354.7 249.7L359.6 220.1M368.9 249.7L373.6 220.1M383.0 249.7L387.6 220.1M397.1 249.7L401.7 220.0M411.3 249.7L415.7 220.0M425.4 249.7L429.7 220.0M439.6 249.7L443.8 220.0M71.7 235.6L61.7 234.7M85.9 235.6L72.9 234.0M100.0 235.6L87.2 232.0M114.2 235.6L101.2 229.6M128.3 235.6L115.2 228.3M142.4 235.6L130.0 225.6M156.6 235.6L145.0 223.2M170.8 235.6L159.4 221.6M184.9 235.6L174.6 220.9M199.1 235.6L189.3 219.3M213.2 235.6L203.2 218.3M227.4 235.6L217.6 217.4M241.5 235.6L232.0 216.4M255.7 235.6L246.5 215.5M269.8 235.6L261.0 214.5M283.9 235.6L275.6 213.6M298.1 235.6L290.3 212.6M312.2 235.6L304.9 211.7M326.4 235.6L319.6 211.3M340.6 235.6L334.3 211.0M354.7 235.6L349.0 210.7M368.9 235.6L363.8 210.3M383.0 235.6L378.5 210.0M397.1 235.6L392.9 209.7M411.3 235.6L407.4 209.4M425.4 235.6L421.8 209.1M439.6 235.6L436.3 208.8M71.7 221.5L69.0 214.0M85.9 221.5L76.2 201.8M100.0 221.5L93.8 193.5M114.2 221.5L108.9 192.0M128.3 221.5L123.5 190.9M142.4 221.5L138.0 189.9M156.6 221.5L154.9 188.6M170.8 221.5L169.2 188.6M184.9 221.5L183.5 188.6M199.1 221.5L197.8 188.6M213.2 221.5L212.0 188.6M227.4 221.5L226.4 188.4M241.5 221.5L240.7 188.3M255.7 221.5L255.0 188.1M269.8 221.5L269.3 188.0M283.9 221.5L283.6 187.8M298.1 221.5L297.9 187.7M312.2 221.5L312.2 187.5M326.4 221.5L326.4 187.5M340.6 221.5L340.6 187.5M354.7 221.5L354.7 187.5M368.9 221.5L368.9 187.5M383.0 221.5L383.0 187.5M397.1 221.5L397.1 187.5M411.3 221.5L411.3 187.5M425.4 221.5L425.4 187.5M439.6 221.5L439.6 187.5M71.7 207.5L84.7 207.5M85.9 207.5L98.8 207.2M100.0 207.5L113.0 207.0M114.2 207.5L127.1 206.8M128.3 207.5L141.3 206.6M142.4 207.5L155.4 206.3M156.6 207.5L169.5 205.9M170.8 207.5L183.6 205.4M184.9 207.5L197.7 205.0M199.1 207.5L211.7 204.5M213.2 207.5L225.8 204.1M227.4 207.5L239.6 203.2M241.5 207.5L253.4 202.3M255.7 207.5L267.1 201.4M269.8 207.5L280.8 200.5M283.9 207.5L294.4 199.7M298.1 207.5L308.0 199.0M312.2 207.5L321.4 198.3M326.4 207.5L335.6 198.1M340.6 207.5L349.7 197.9M354.7 207.5L363.8 197.8M368.9 207.5L378.0 197.6M383.0 207.5L392.1 197.4M397.1 207.5L406.2 197.3M411.3 207.5L420.4 197.1M425.4 207.5L434.5 196.9M439.6 207.5L448.6 196.7M71.7 193.4L84.7 193.4M85.9 193.4L98.8 193.2M100.0 193.4L113.0 193.1M114.2 193.4L127.1 193.0M128.3 193.4L141.3 192.8M142.4 193.4L155.4 192.7M156.6 193.4L169.6 192.6M170.8 193.4L183.7 192.5M184.9 193.4L197.9 192.4M199.1 193.4L212.0 192.3M213.2 193.4L226.2 192.2M227.4 193.4L240.2 191.3M241.5 193.4L254.1 190.3M255.7 193.4L268.0 189.4M269.8 193.4L281.8 188.5M283.9 193.4L295.6 187.6M298.1 193.4L309.3 186.7M312.2 193.4L322.9 185.9M326.4 193.4L337.1 185.8M340.6 193.4L351.2 185.6M354.7 193.4L365.4 185.4M368.9 193.4L379.6 185.2M383.0 193.4L393.7 185.1M397.1 193.4L407.9 184.9M411.3 193.4L422.0 184.7M425.4 193.4L436.2 184.6M439.6 193.4L450.3 184.4M71.7 179.3L84.7 179.3M85.9 179.3L98.8 179.2M100.0 179.3L113.0 179.1M114.2 179.3L127.1 179.0M128.3 179.3L141.3 178.8M142.4 179.3L155.4 178.3M156.6 179.3L169.5 177.7M170.8 179.3L183.6 177.1M184.9 179.3L197.6 176.5M199.1 179.3L211.6 175.9M213.2 179.3L225.6 175.3M227.4 179.3L239.5 174.7M241.5 179.3L253.4 174.2M255.7 179.3L267.3 173.6M269.8 179.3L281.2 173.0M283.9 179.3L295.0 172.5M298.1 179.3L308.8 172.0M312.2 179.3L322.6 171.5M326.4 179.3L336.8 171.3M340.6 179.3L351.0 171.2M354.7 179.3L365.2 171.1M368.9 179.3L379.4 171.0M383.0 179.3L393.6 170.8M397.1 179.3L407.8 170.7M411.3 179.3L422.0 170.6M425.4 179.3L436.1 170.4M439.6 179.3L450.3 170.3M71.7 165.2L84.7 165.2M85.9 165.2L98.8 165.0M100.0 165.2L113.0 164.9M114.2 165.2L127.1 164.7M128.3 165.2L141.3 164.5M142.4 165.2L155.5 163.5M156.6 165.2L169.7 162.5M170.8 165.2L183.8 161.4M184.9 165.2L197.8 160.4M199.1 165.2L211.7 159.3M213.2 165.2L225.5 158.6M227.4 165.2L239.3 158.0M241.5 165.2L253.1 157.3M255.7 165.2L266.8 156.7M269.8 165.2L280.4 156.1M283.9 165.2L294.1 155.5M298.1 165.2L307.7 155.0M312.2 165.2L321.2 154.5M326.4 165.2L335.5 154.3M340.6 165.2L349.7 154.1M354.7 165.2L364.0 153.9M368.9 165.2L378.2 153.7M383.0 165.2L392.5 153.5M397.1 165.2L406.7 153.2M411.3 165.2L421.0 153.0M425.4 165.2L435.2 152.8M439.6 165.2L449.5 152.6M71.7 151.1L84.7 151.1M85.9 151.1L98.8 150.5M100.0 151.1L112.9 149.3M114.2 151.1L126.7 147.8M128.3 151.1L141.5 146.4M142.4 151.1L155.1 145.2M156.6 151.1L168.7 144.1M170.8 151.1L182.6 143.1M184.9 151.1L196.5 142.1M199.1 151.1L210.2 141.1M213.2 151.1L224.3 140.0M227.4 151.1L238.3 138.8M241.5 151.1L252.2 137.6M255.7 151.1L266.0 136.4M269.8 151.1L280.0 135.1M283.9 151.1L293.9 133.8M298.1 151.1L307.8 132.5M312.2 151.1L321.5 131.2M326.4 151.1L335.8 130.1M340.6 151.1L349.9 129.0M354.7 151.1L364.1 128.0M368.9 151.1L378.2 126.9M383.0 151.1L392.2 125.8M397.1 151.1L406.3 125.2M411.3 151.1L420.4 124.7M425.4 151.1L434.5 124.1M439.6 151.1L448.6 123.6M71.7 137.1L84.7 137.1M85.9 137.1L96.6 128.1M100.0 137.1L109.0 121.5M114.2 137.1L121.7 116.4M128.3 137.1L134.6 111.8M142.4 137.1L147.1 110.5M156.6 137.1L161.0 109.4M170.8 137.1L174.1 105.2M184.9 137.1L187.4 104.6M199.1 137.1L201.2 103.8M213.2 137.1L215.0 103.1M227.4 137.1L229.0 103.5M241.5 137.1L243.1 103.8M255.7 137.1L257.2 104.2M269.8 137.1L271.2 104.6M283.9 137.1L285.3 105.0M298.1 137.1L299.3 105.3M312.2 137.1L313.4 105.7M326.4 137.1L327.5 106.1M340.6 137.1L341.6 106.1M354.7 137.1L355.6 106.1M368.9 137.1L369.7 106.1M383.0 137.1L383.8 106.1M397.1 137.1L397.9 106.1M411.3 137.1L412.0 106.1M425.4 137.1L426.1 106.1M439.6 137.1L440.1 106.1M71.7 123.0L67.8 118.4M85.9 123.0L73.8 112.5M100.0 123.0L90.0 105.7M114.2 123.0L105.2 100.7M128.3 123.0L123.1 96.5M142.4 123.0L137.1 92.5M156.6 123.0L151.0 91.5M170.8 123.0L165.1 91.0M184.9 123.0L179.2 90.5M199.1 123.0L193.2 90.0M213.2 123.0L207.3 89.5M227.4 123.0L222.1 89.6M241.5 123.0L236.8 89.8M255.7 123.0L251.6 90.0M269.8 123.0L266.4 90.2M283.9 123.0L281.1 90.4M298.1 123.0L295.8 90.6M312.2 123.0L310.6 90.8M326.4 123.0L325.3 91.0M340.6 123.0L339.5 91.1M354.7 123.0L353.7 91.2M368.9 123.0L368.0 91.4M383.0 123.0L382.2 91.5M397.1 123.0L396.4 91.6M411.3 123.0L410.6 91.7M425.4 123.0L424.8 91.9M439.6 123.0L439.1 92.0M71.7 108.9L84.3 108.9M85.9 108.9L98.5 105.8M100.0 108.9L112.7 103.0M114.2 108.9L126.8 97.5M128.3 108.9L140.3 90.4M142.4 108.9L154.1 90.2M156.6 108.9L167.9 90.0M170.8 108.9L181.2 90.1M184.9 108.9L194.4 90.2M199.1 108.9L207.9 90.4M213.2 108.9L221.3 90.6M227.4 108.9L235.1 90.8M241.5 108.9L248.9 90.9M255.7 108.9L262.6 91.1M269.8 108.9L276.4 91.2M283.9 108.9L290.2 91.4M298.1 108.9L304.0 91.6M312.2 108.9L317.8 91.8M326.4 108.9L331.8 91.7M340.6 108.9L345.7 91.7M354.7 108.9L359.7 91.6M368.9 108.9L373.6 91.5M383.0 108.9L387.6 91.5M397.1 108.9L401.5 91.4M411.3 108.9L415.5 91.4M425.4 108.9L429.4 91.3M439.6 108.9L443.3 91.3M71.7 94.8L84.7 94.8M85.9 94.8L98.8 94.6M100.0 94.8L113.0 94.4M114.2 94.8L127.0 92.6M128.3 94.8L140.9 91.0M142.4 94.8L155.1 90.0M156.6 94.8L169.3 88.9M170.8 94.8L183.4 88.0M184.9 94.8L197.4 87.1M199.1 94.8L211.3 86.2M213.2 94.8L225.2 85.4M227.4 94.8L239.0 84.7M241.5 94.8L252.8 83.9M255.7 94.8L266.6 83.1M269.8 94.8L280.2 82.4M283.9 94.8L293.9 81.6M298.1 94.8L307.5 80.9M312.2 94.8L321.0 80.2M326.4 94.8L334.9 79.6M340.6 94.8L348.8 79.0M354.7 94.8L362.7 78.4M368.9 94.8L376.5 77.8M383.0 94.8L390.4 77.2M397.1 94.8L404.1 76.6M411.3 94.8L418.2 76.4M425.4 94.8L432.3 76.2M439.6 94.8L446.4 76.0M71.7 80.7L84.7 80.7M85.9 80.7L98.8 80.6M100.0 80.7L113.0 80.4M114.2 80.7L127.1 80.2M128.3 80.7L141.3 80.1M142.4 80.7L155.4 79.2M156.6 80.7L169.4 78.3M170.8 80.7L183.3 77.5M184.9 80.7L197.2 76.7M199.1 80.7L211.1 75.9M213.2 80.7L225.1 75.2M227.4 80.7L239.0 74.5M241.5 80.7L252.9 73.8M255.7 80.7L266.8 73.1M269.8 80.7L280.6 72.4M283.9 80.7L294.4 71.8M298.1 80.7L308.1 71.1M312.2 80.7L321.8 70.5M326.4 80.7L335.8 69.6M340.6 80.7L349.7 68.7M354.7 80.7L363.6 67.8M368.9 80.7L377.4 66.8M383.0 80.7L391.2 65.9M397.1 80.7L404.8 65.0M411.3 80.7L418.9 64.8M425.4 80.7L432.9 64.5M439.6 80.7L446.9 64.3M71.7 66.7L84.7 66.7M85.9 66.7L98.8 66.4M100.0 66.7L113.0 66.2M114.2 66.7L127.0 64.4M128.3 66.7L141.2 63.8M142.4 66.7L155.5 63.2M156.6 66.7L169.3 62.0M170.8 66.7L183.4 60.7M184.9 66.7L197.0 59.7M199.1 66.7L210.8 59.0M213.2 66.7L224.7 58.7M227.4 66.7L238.6 58.3M241.5 66.7L252.5 58.0M255.7 66.7L266.4 57.7M269.8 66.7L280.4 56.9M283.9 66.7L294.4 56.2M298.1 66.7L308.3 55.5M312.2 66.7L322.2 54.8M326.4 66.7L336.0 53.8M340.6 66.7L349.6 52.9M354.7 66.7L363.2 51.9M368.9 66.7L377.2 50.5M383.0 66.7L391.1 49.1M397.1 66.7L404.8 47.7M411.3 66.7L418.8 47.4M425.4 66.7L432.8 47.2M439.6 66.7L446.8 46.9M71.7 52.6L84.7 52.6M85.9 52.6L98.8 52.1M100.0 52.6L112.9 51.2M114.2 52.6L127.8 49.7M128.3 52.6L141.5 47.8M142.4 52.6L155.7 45.5M156.6 52.6L168.9 44.0M170.8 52.6L182.6 42.6M184.9 52.6L196.4 41.5M199.1 52.6L210.2 41.1M213.2 52.6L224.2 40.6M227.4 52.6L238.2 40.1M241.5 52.6L252.2 39.7M255.7 52.6L266.1 39.2M269.8 52.6L280.1 38.4M283.9 52.6L294.0 37.7M298.1 52.6L307.9 36.9M312.2 52.6L321.8 36.1M326.4 52.6L335.2 34.6M340.6 52.6L348.8 34.1M354.7 52.6L362.4 33.6M368.9 52.6L375.9 33.1M383.0 52.6L389.5 32.6M397.1 52.6L403.4 32.5M411.3 52.6L417.3 32.4M425.4 52.6L431.2 32.4M439.6 52.6L445.0 32.3M71.7 38.5L84.7 38.5M85.9 38.5L99.4 34.9M100.0 38.5L112.3 29.9M114.2 38.5L125.5 27.2M128.3 38.5L138.6 23.8M142.4 38.5L151.9 22.0M156.6 38.5L165.1 20.4M170.8 38.5L177.9 18.8M184.9 38.5L190.6 17.2M199.1 38.5L204.7 17.0M213.2 38.5L218.8 16.8M227.4 38.5L232.8 16.5M241.5 38.5L246.9 16.3M255.7 38.5L261.0 16.0M269.8 38.5L275.0 15.8M283.9 38.5L289.1 15.5M298.1 38.5L303.2 15.3M312.2 38.5L317.2 15.0M326.4 38.5L327.2 14.5M340.6 38.5L341.3 14.5M354.7 38.5L355.3 14.5M368.9 38.5L369.4 14.5M383.0 38.5L383.4 14.5M397.1 38.5L397.5 14.5M411.3 38.5L411.5 14.5M425.4 38.5L425.6 14.5M439.6 38.5L439.6 14.5M71.7 24.4L71.7 18.8M85.9 24.4L85.9 18.8M100.0 24.4L100.0 18.7M114.2 24.4L114.2 18.7M128.3 24.4L128.3 18.6M142.4 24.4L142.4 18.6M156.6 24.4L156.6 18.5M170.8 24.4L170.8 18.5M184.9 24.4L184.9 18.4M199.1 24.4L199.1 16.4M213.2 24.4L213.2 16.4M227.4 24.4L227.4 16.4M241.5 24.4L241.5 16.4M255.7 24.4L255.7 16.4M269.8 24.4L269.8 16.4M283.9 24.4L283.9 16.4M298.1 24.4L298.1 16.4M312.2 24.4L312.2 16.4M326.4 24.4L326.4 16.4M340.6 24.4L340.6 16.4M354.7 24.4L354.7 16.4M368.9 24.4L368.9 16.4M383.0 24.4L383.0 16.4M397.1 24.4L397.1 16.4M411.3 24.4L411.3 16.4M425.4 24.4L425.4 16.4M439.6 24.4L439.6 16.4" stroke="#fff" stroke-width="1.50" fill="none" stroke-linecap="round"/><path d="M63.7 389.7L59.7 391.3L63.7 392.9ZM77.8 389.7L73.9 391.3L77.8 392.9ZM92.0 389.7L88.0 391.3L92.0 392.9ZM106.1 389.7L102.2 391.3L106.1 392.9ZM120.3 389.7L116.3 391.3L120.3 392.9ZM134.4 389.7L130.4 391.3L134.4 392.9ZM148.6 389.7L144.6 391.3L148.6 392.9ZM162.7 389.7L158.8 391.3L162.7 392.9ZM176.9 389.7L172.9 391.3L176.9 392.9ZM191.0 389.7L187.1 391.3L191.0 392.9ZM205.2 389.7L201.2 391.3L205.2 392.9ZM219.3 389.7L215.4 391.3L219.3 392.9ZM233.5 389.7L229.5 391.3L233.5 392.9ZM247.6 389.7L243.7 391.3L247.6 392.9ZM261.8 389.7L257.8 391.3L261.8 392.9ZM275.9 389.7L271.9 391.3L275.9 392.9ZM290.1 389.7L286.1 391.3L290.1 392.9ZM304.2 389.7L300.2 391.3L304.2 392.9ZM318.4 389.7L314.4 391.3L318.4 392.9ZM332.5 389.7L328.6 391.3L332.5 392.9ZM346.7 389.7L342.7 391.3L346.7 392.9ZM360.8 389.7L356.9 391.3L360.8 392.9ZM375.0 389.7L371.0 391.3L375.0 392.9ZM389.1 389.7L385.1 391.3L389.1 392.9ZM403.3 389.7L399.3 391.3L403.3 392.9ZM417.4 389.7L413.4 391.3L417.4 392.9ZM431.6 389.7L427.6 391.3L431.6 392.9ZM63.5 374.8L59.5 376.4L63.5 378.0ZM77.7 374.8L73.7 376.4L77.7 378.0ZM91.8 374.8L87.8 376.4L91.8 378.0ZM106.0 374.8L102.0 376.4L106.0 378.0ZM120.1 374.8L116.1 376.4L120.1 378.0ZM134.3 374.8L130.2 376.4L134.3 378.0ZM148.4 374.8L144.4 376.4L148.4 378.0ZM162.6 374.8L158.6 376.4L162.6 378.0ZM176.7 374.8L172.7 376.4L176.7 378.0ZM190.9 374.8L186.9 376.4L190.9 378.0ZM205.0 374.8L201.0 376.4L205.0 378.0ZM219.2 374.8L215.2 376.4L219.2 378.0ZM233.3 374.8L229.3 376.4L233.3 378.0ZM247.5 374.8L243.5 376.4L247.5 378.0ZM261.6 374.8L257.6 376.4L261.6 378.0ZM275.8 374.8L271.8 376.4L275.8 378.0ZM289.9 374.8L285.9 376.4L289.9 378.0ZM304.1 374.8L300.1 376.4L304.1 378.0ZM318.2 374.8L314.2 376.4L318.2 378.0ZM332.4 374.8L328.4 376.4L332.4 378.0ZM346.5 374.8L342.5 376.4L346.5 378.0ZM360.7 374.8L356.7 376.4L360.7 378.0ZM374.8 374.8L370.8 376.4L374.8 378.0ZM389.0 374.8L384.9 376.4L389.0 378.0ZM403.1 374.8L399.1 376.4L403.1 378.0ZM417.3 374.8L413.2 376.4L417.3 378.0ZM431.4 374.8L427.4 376.4L431.4 378.0ZM63.5 360.7L59.5 362.3L63.5 364.0ZM77.7 360.7L73.7 362.3L77.7 364.0ZM91.8 360.7L87.8 362.3L91.8 364.0ZM106.0 360.7L102.0 362.3L106.0 364.0ZM120.1 360.7L116.1 362.3L120.1 364.0ZM134.3 360.7L130.2 362.3L134.3 364.0ZM148.4 360.7L144.4 362.3L148.4 364.0ZM162.6 360.7L158.6 362.3L162.6 364.0ZM176.7 360.7L172.7 362.3L176.7 364.0ZM190.9 360.7L186.9 362.3L190.9 364.0ZM205.0 360.7L201.0 362.3L205.0 364.0ZM219.2 360.7L215.2 362.3L219.2 364.0ZM233.3 360.7L229.3 362.3L233.3 364.0ZM247.5 360.7L243.5 362.3L247.5 364.0ZM261.6 360.7L257.6 362.3L261.6 364.0ZM275.8 360.9L271.8 362.6L275.8 364.1ZM289.9 361.1L286.0 362.9L290.0 364.3ZM304.0 361.3L300.2 363.1L304.2 364.5ZM318.2 361.5L314.3 363.4L318.5 364.6ZM332.3 361.6L328.5 363.7L332.7 364.8ZM346.5 361.8L342.8 363.9L346.9 365.0ZM360.6 362.0L357.0 364.2L361.1 365.1ZM374.8 362.2L371.2 364.4L375.4 365.3ZM389.0 362.2L385.4 364.5L389.5 365.4ZM403.1 362.3L399.5 364.6L403.7 365.4ZM417.3 362.4L413.7 364.7L417.9 365.5ZM431.4 362.5L427.9 364.8L432.1 365.6ZM63.0 346.5L58.7 348.3L63.0 350.0ZM77.2 346.6L73.0 348.3L77.2 350.0ZM91.4 346.6L87.2 348.3L91.4 349.9ZM105.6 346.6L101.5 348.3L105.6 349.9ZM119.9 346.6L115.7 348.3L119.9 349.9ZM134.1 346.6L129.9 348.3L134.1 349.9ZM148.3 346.9L144.3 348.7L148.4 350.2ZM162.5 347.2L158.6 349.1L162.7 350.4ZM176.8 347.5L173.0 349.5L177.1 350.7ZM191.0 347.8L187.4 349.9L191.5 350.9ZM205.3 348.1L201.8 350.3L205.8 351.1ZM219.4 348.2L216.0 350.4L220.0 351.2ZM233.6 348.2L230.2 350.5L234.2 351.2ZM247.8 348.3L244.4 350.6L248.4 351.3ZM261.9 348.4L258.6 350.7L262.6 351.3ZM275.9 348.6L272.5 351.0L276.6 351.6ZM289.8 348.8L286.4 351.3L290.7 351.9ZM303.8 349.0L300.3 351.7L304.7 352.2ZM317.7 349.2L314.2 352.1L318.8 352.4ZM331.7 349.5L328.2 352.5L332.8 352.7ZM345.7 349.7L342.2 352.9L346.9 353.0ZM359.7 350.0L356.1 353.3L361.0 353.3ZM373.6 350.2L370.1 353.7L375.1 353.6ZM387.8 350.2L384.3 353.7L389.2 353.6ZM401.9 350.2L398.4 353.7L403.4 353.6ZM416.1 350.2L412.6 353.7L417.5 353.6ZM430.2 350.2L426.7 353.7L431.7 353.6ZM80.4 335.9L84.7 334.2L80.4 332.5ZM94.5 336.0L98.8 334.4L94.6 332.6ZM108.6 336.2L113.0 334.6L108.8 332.8ZM122.8 336.3L127.1 334.9L122.9 332.9ZM136.9 336.7L141.4 335.4L137.2 333.3ZM151.1 337.1L155.7 336.0L151.5 333.6ZM165.2 337.5L169.9 336.5L165.8 334.0ZM179.2 338.3L184.0 337.7L180.1 334.8ZM193.1 339.1L198.1 339.0L194.3 335.7ZM206.5 340.5L211.6 341.1L208.3 337.2ZM219.7 341.7L224.7 343.2L222.1 338.7ZM233.6 342.4L238.6 344.1L236.2 339.4ZM247.7 343.0L252.6 345.0L250.4 340.2ZM262.1 343.4L267.0 345.5L264.9 340.6ZM276.3 344.1L281.1 346.3L279.2 341.4ZM290.5 344.7L295.2 347.2L293.5 342.2ZM304.7 345.4L309.3 348.0L307.7 343.0ZM318.8 346.1L323.3 348.9L321.9 343.8ZM332.9 346.9L337.3 349.7L336.1 344.6ZM346.4 347.4L350.6 350.6L349.7 345.4ZM359.8 348.0L363.9 351.4L363.3 346.2ZM373.2 348.5L377.0 352.2L376.8 346.9ZM386.6 349.0L390.2 352.9L390.2 347.6ZM400.5 349.5L404.0 353.5L404.2 348.2ZM414.4 350.1L417.8 354.2L418.1 348.9ZM428.3 350.7L431.6 354.8L432.0 349.5ZM442.1 351.2L445.3 355.4L445.9 350.2ZM80.4 321.8L84.7 320.1L80.4 318.4ZM94.6 321.8L98.9 320.1L94.6 318.4ZM108.7 321.8L113.0 320.1L108.7 318.4ZM122.9 321.8L127.2 320.1L122.9 318.4ZM137.0 321.8L141.3 320.1L137.0 318.4ZM151.2 321.8L155.4 320.1L151.2 318.4ZM165.3 321.8L169.6 320.1L165.3 318.4ZM179.5 321.8L183.8 320.1L179.5 318.4ZM193.6 321.8L197.9 320.1L193.6 318.4ZM207.8 321.8L212.1 320.1L207.8 318.4ZM221.9 321.8L226.2 320.1L221.9 318.4ZM236.1 321.8L240.4 320.1L236.1 318.4ZM250.2 321.8L254.5 320.1L250.2 318.4ZM264.4 321.8L268.7 320.1L264.4 318.4ZM278.5 321.8L282.8 320.1L278.5 318.4ZM292.5 322.0L296.8 320.5L292.6 318.6ZM306.5 322.3L310.8 320.8L306.7 318.9ZM320.5 322.5L324.8 321.2L320.8 319.2ZM334.5 322.7L338.8 321.5L334.9 319.4ZM348.5 322.9L352.8 321.8L349.0 319.7ZM362.5 323.1L366.8 322.2L363.1 319.9ZM376.5 323.3L380.7 322.5L377.1 320.1ZM390.5 323.5L394.7 322.8L391.2 320.4ZM404.6 323.5L408.8 322.9L405.3 320.4ZM418.7 323.6L422.9 323.0L419.5 320.5ZM432.8 323.6L437.1 323.1L433.6 320.6ZM447.0 323.7L451.2 323.2L447.8 320.7ZM80.4 307.7L84.7 306.0L80.4 304.3ZM94.6 307.7L98.9 306.0L94.6 304.3ZM108.7 307.7L113.0 306.0L108.7 304.3ZM122.9 307.7L127.2 306.0L122.9 304.3ZM137.0 307.7L141.3 306.0L137.0 304.3ZM151.2 307.7L155.4 306.0L151.2 304.3ZM165.3 307.7L169.6 306.0L165.3 304.3ZM179.5 307.7L183.8 306.0L179.5 304.3ZM193.6 307.7L197.9 306.0L193.6 304.3ZM207.8 307.7L212.1 306.0L207.8 304.3ZM221.9 307.7L226.2 306.0L221.9 304.3ZM236.1 307.7L240.4 306.0L236.1 304.3ZM250.2 307.7L254.5 306.0L250.2 304.3ZM264.4 307.7L268.7 306.0L264.4 304.3ZM278.5 307.7L282.8 306.0L278.5 304.3ZM292.7 307.7L296.9 306.0L292.7 304.3ZM306.8 307.7L311.1 306.0L306.8 304.3ZM321.0 307.7L325.2 306.0L321.0 304.3ZM335.1 307.7L339.4 306.0L335.1 304.3ZM349.3 307.7L353.6 306.0L349.3 304.3ZM363.4 307.7L367.7 306.0L363.4 304.3ZM377.6 307.7L381.9 306.0L377.6 304.3ZM391.7 307.7L396.0 306.0L391.7 304.3ZM405.9 307.7L410.1 306.0L405.9 304.3ZM420.0 307.7L424.3 306.0L420.0 304.3ZM434.2 307.7L438.4 306.0L434.2 304.3ZM448.3 307.7L452.6 306.0L448.3 304.3ZM80.4 293.7L84.7 291.9L80.4 290.2ZM94.6 293.6L98.8 291.9L94.6 290.2ZM108.7 293.6L113.0 291.8L108.7 290.2ZM122.9 293.6L127.1 291.8L122.8 290.1ZM137.0 293.5L141.3 291.8L137.0 290.1ZM151.2 293.5L155.4 291.7L151.1 290.1ZM165.3 293.5L169.6 291.7L165.3 290.0ZM179.5 293.4L183.7 291.6L179.4 290.0ZM193.7 293.4L197.9 291.6L193.6 290.0ZM207.8 293.4L212.0 291.5L207.7 290.0ZM222.0 293.4L226.2 291.5L221.8 289.9ZM236.1 293.2L240.3 291.3L236.0 289.8ZM250.3 293.1L254.5 291.2L250.1 289.7ZM264.5 293.0L268.6 291.0L264.2 289.6ZM278.6 292.9L282.8 290.8L278.3 289.5ZM292.8 292.8L296.9 290.7L292.5 289.4ZM306.9 292.7L311.0 290.5L306.6 289.3ZM321.1 292.6L325.2 290.4L320.7 289.2ZM335.3 292.5L339.3 290.3L334.8 289.1ZM349.4 292.5L353.4 290.2L349.0 289.1ZM363.6 292.4L367.6 290.1L363.1 289.0ZM377.7 292.4L381.7 290.1L377.2 289.0ZM391.9 292.3L395.9 290.0L391.4 288.9ZM406.0 292.3L410.0 289.9L405.5 288.9ZM420.2 292.2L424.1 289.8L419.6 288.8ZM434.3 292.2L438.3 289.8L433.7 288.8ZM448.5 292.1L452.4 289.7L447.9 288.7ZM80.4 279.6L84.7 277.9L80.4 276.1ZM94.6 279.5L98.8 277.8L94.5 276.1ZM108.7 279.4L113.0 277.7L108.7 276.0ZM122.9 279.4L127.1 277.6L122.8 275.9ZM137.1 279.3L141.3 277.5L137.0 275.9ZM151.2 279.2L155.4 277.4L151.1 275.8ZM165.4 279.2L169.6 277.3L165.2 275.7ZM179.5 279.1L183.7 277.2L179.4 275.7ZM193.7 279.0L197.9 277.1L193.5 275.6ZM207.9 279.0L212.0 277.0L207.6 275.5ZM222.1 278.7L226.2 276.6L221.7 275.3ZM236.3 278.4L240.4 276.1L235.8 275.0ZM250.5 278.2L254.5 275.7L249.9 274.7ZM264.7 277.9L268.7 275.3L264.0 274.4ZM278.9 277.6L282.8 274.9L278.1 274.2ZM293.1 277.3L296.9 274.5L292.2 273.9ZM307.2 277.0L311.0 274.1L306.2 273.6ZM321.4 276.8L325.1 273.7L320.3 273.4ZM335.6 276.6L339.2 273.5L334.4 273.2ZM349.7 276.5L353.4 273.3L348.5 273.1ZM363.9 276.4L367.5 273.1L362.7 273.0ZM378.1 276.2L381.7 272.9L376.8 272.9ZM392.2 276.1L395.8 272.7L390.9 272.7ZM406.4 276.0L409.9 272.5L405.0 272.6ZM420.6 275.8L424.0 272.3L419.1 272.5ZM434.7 275.7L438.2 272.1L433.2 272.3ZM448.9 275.6L452.3 271.9L447.3 272.2ZM80.4 265.5L84.7 263.8L80.4 262.1ZM94.6 265.4L98.8 263.6L94.5 262.0ZM108.7 265.3L113.0 263.5L108.7 261.9ZM122.9 265.2L127.1 263.4L122.8 261.8ZM137.1 265.1L141.3 263.2L136.9 261.7ZM151.2 265.0L155.4 263.1L151.1 261.6ZM165.4 264.8L169.6 262.7L165.1 261.3ZM179.6 264.5L183.7 262.3L179.2 261.1ZM193.8 264.2L197.8 261.9L193.3 260.8ZM207.9 264.0L211.9 261.5L207.3 260.6ZM222.2 263.4L226.1 260.6L221.4 260.0ZM236.5 262.8L240.2 259.7L235.4 259.4ZM250.7 262.1L254.3 258.8L249.4 258.7ZM264.9 261.5L268.3 257.9L263.4 258.1ZM279.1 260.8L282.3 256.9L277.3 257.5ZM293.2 260.2L296.2 256.0L291.1 256.9ZM307.2 259.5L310.0 255.1L304.9 256.4ZM321.2 258.8L323.7 254.1L318.7 255.8ZM335.5 258.2L337.8 253.5L332.9 255.3ZM349.8 257.6L351.9 252.8L347.0 254.8ZM364.0 257.0L366.0 252.1L361.1 254.3ZM378.1 256.4L380.0 251.4L375.2 253.8ZM392.3 255.8L393.9 250.8L389.3 253.3ZM406.4 255.0L407.8 249.9L403.3 252.6ZM420.4 254.2L421.6 249.0L417.2 251.9ZM434.4 253.4L435.4 248.2L431.1 251.3ZM448.3 252.5L449.1 247.3L445.0 250.6ZM80.4 251.4L84.7 249.7L80.4 248.0ZM94.7 249.9L98.7 247.4L94.1 246.5ZM109.1 248.1L112.6 244.9L107.8 244.8ZM123.8 246.0L126.9 241.8L121.7 242.7ZM137.9 243.7L140.2 239.0L135.2 240.8ZM151.0 242.3L152.5 237.3L147.9 239.8ZM164.7 241.9L166.0 236.8L161.5 239.6ZM178.9 241.5L180.1 236.4L175.7 239.3ZM193.0 241.2L194.1 236.0L189.8 239.0ZM207.1 240.8L208.2 235.7L203.9 238.7ZM221.3 240.5L222.2 235.3L217.9 238.4ZM235.8 238.4L236.5 233.2L232.4 236.5ZM250.1 236.3L250.5 231.0L246.6 234.6ZM264.2 234.1L264.3 228.9L260.6 232.6ZM278.1 231.9L277.9 226.7L274.4 230.6ZM291.8 229.7L291.3 224.5L288.1 228.6ZM305.3 227.5L304.5 222.3L301.5 226.6ZM318.5 225.3L317.5 220.2L314.7 224.6ZM332.6 225.3L331.5 220.1L328.7 224.6ZM346.6 225.3L345.5 220.1L342.8 224.6ZM360.7 225.3L359.6 220.1L356.8 224.6ZM374.8 225.2L373.6 220.1L370.9 224.6ZM388.8 225.2L387.6 220.1L384.9 224.6ZM402.9 225.2L401.7 220.0L399.0 224.6ZM416.9 225.2L415.7 220.0L413.0 224.6ZM431.0 225.1L429.7 220.0L427.1 224.6ZM445.0 225.1L443.8 220.0L441.2 224.6ZM65.1 233.7L61.7 234.7L64.9 236.4ZM77.4 232.9L72.9 234.0L77.0 236.3ZM91.9 231.5L87.2 232.0L91.0 234.9ZM106.3 229.9L101.2 229.6L104.7 233.3ZM120.4 229.0L115.2 228.3L118.5 232.4ZM135.1 227.1L130.0 225.6L132.6 230.2ZM149.8 225.4L145.0 223.2L146.9 228.1ZM164.0 224.2L159.4 221.6L161.0 226.7ZM179.0 223.8L174.6 220.9L175.8 226.0ZM193.5 222.5L189.3 219.3L190.1 224.5ZM207.3 221.6L203.2 218.3L204.0 223.5ZM221.6 220.8L217.6 217.4L218.2 222.6ZM235.9 219.9L232.0 216.4L232.4 221.7ZM250.3 219.1L246.5 215.5L246.7 220.7ZM264.7 218.3L261.0 214.5L261.1 219.8ZM279.2 217.5L275.6 213.6L275.5 218.8ZM293.7 216.6L290.3 212.6L290.0 217.9ZM308.2 215.8L304.9 211.7L304.5 217.0ZM322.8 215.5L319.6 211.3L319.1 216.6ZM337.4 215.3L334.3 211.0L333.6 216.2ZM352.0 215.0L349.0 210.7L348.2 215.9ZM366.6 214.7L363.8 210.3L362.8 215.5ZM381.3 214.5L378.5 210.0L377.4 215.2ZM395.7 214.2L392.9 209.7L391.8 214.9ZM410.0 214.0L407.4 209.4L406.2 214.5ZM424.4 213.7L421.8 209.1L420.6 214.2ZM438.9 213.4L436.3 208.8L435.0 213.9ZM71.1 216.4L69.0 214.0L68.9 217.3ZM80.1 205.3L76.2 201.8L76.6 207.0ZM96.8 197.9L93.8 193.5L92.9 198.7ZM111.7 196.5L108.9 192.0L107.9 197.2ZM126.2 195.5L123.5 190.9L122.3 196.1ZM140.6 194.4L138.0 189.9L136.7 195.0ZM157.1 193.4L154.9 188.6L153.2 193.6ZM171.4 193.4L169.2 188.6L167.4 193.6ZM185.6 193.4L183.5 188.6L181.7 193.6ZM199.9 193.4L197.8 188.6L196.0 193.5ZM214.2 193.4L212.0 188.6L210.3 193.5ZM228.5 193.3L226.4 188.4L224.5 193.4ZM242.8 193.1L240.7 188.3L238.8 193.2ZM257.0 193.0L255.0 188.1L253.1 193.1ZM271.3 192.8L269.3 188.0L267.4 192.9ZM285.6 192.7L283.6 187.8L281.7 192.7ZM299.9 192.6L297.9 187.7L296.0 192.6ZM314.2 192.4L312.2 187.5L310.3 192.4ZM328.4 192.4L326.4 187.5L324.4 192.4ZM342.5 192.4L340.6 187.5L338.6 192.4ZM356.7 192.4L354.7 187.5L352.7 192.4ZM370.8 192.4L368.9 187.5L366.9 192.4ZM385.0 192.4L383.0 187.5L381.0 192.4ZM399.1 192.4L397.1 187.5L395.2 192.4ZM413.3 192.4L411.3 187.5L409.3 192.4ZM427.4 192.4L425.4 187.5L423.5 192.4ZM441.6 192.4L439.6 187.5L437.6 192.4ZM80.4 209.2L84.7 207.5L80.4 205.7ZM94.6 209.0L98.8 207.2L94.5 205.6ZM108.8 208.9L113.0 207.0L108.6 205.4ZM122.9 208.7L127.1 206.8L122.8 205.3ZM137.1 208.6L141.3 206.6L136.9 205.1ZM151.3 208.4L155.4 206.3L151.0 205.0ZM165.5 208.1L169.5 205.9L165.0 204.7ZM179.6 207.8L183.6 205.4L179.1 204.4ZM193.8 207.5L197.7 205.0L193.1 204.1ZM207.9 207.2L211.7 204.5L207.2 203.8ZM222.1 206.9L225.8 204.1L221.2 203.5ZM236.1 206.2L239.6 203.2L235.0 203.0ZM250.2 205.5L253.4 202.3L248.8 202.4ZM264.2 204.9L267.1 201.4L262.5 201.9ZM278.1 204.3L280.8 200.5L276.3 201.4ZM292.0 203.7L294.4 199.7L289.9 200.9ZM305.8 203.1L308.0 199.0L303.6 200.5ZM319.6 202.5L321.4 198.3L317.2 200.1ZM333.8 202.4L335.6 198.1L331.3 200.0ZM347.9 202.3L349.7 197.9L345.4 199.9ZM362.1 202.2L363.8 197.8L359.6 199.8ZM376.3 202.1L378.0 197.6L373.7 199.6ZM390.4 201.9L392.1 197.4L387.8 199.5ZM404.6 201.8L406.2 197.3L401.9 199.4ZM418.7 201.7L420.4 197.1L416.0 199.3ZM432.9 201.6L434.5 196.9L430.1 199.2ZM447.0 201.5L448.6 196.7L444.2 199.1ZM80.4 195.1L84.7 193.4L80.4 191.7ZM94.6 195.0L98.8 193.2L94.5 191.6ZM108.7 194.9L113.0 193.1L108.7 191.5ZM122.9 194.8L127.1 193.0L122.8 191.4ZM137.1 194.7L141.3 192.8L136.9 191.3ZM151.2 194.6L155.4 192.7L151.1 191.2ZM165.4 194.6L169.6 192.6L165.2 191.2ZM179.6 194.5L183.7 192.5L179.3 191.1ZM193.7 194.5L197.9 192.4L193.5 191.0ZM207.9 194.4L212.0 192.3L207.6 191.0ZM222.0 194.3L226.2 192.2L221.7 190.9ZM236.2 193.7L240.2 191.3L235.7 190.3ZM250.4 193.0L254.1 190.3L249.6 189.7ZM264.5 192.3L268.0 189.4L263.4 189.1ZM278.5 191.7L281.8 188.5L277.2 188.5ZM292.5 191.0L295.6 187.6L291.0 188.0ZM306.5 190.4L309.3 186.7L304.7 187.5ZM320.4 189.8L322.9 185.9L318.4 187.0ZM334.6 189.7L337.1 185.8L332.5 186.9ZM348.7 189.6L351.2 185.6L346.7 186.7ZM362.9 189.5L365.4 185.4L360.8 186.6ZM377.1 189.3L379.6 185.2L374.9 186.5ZM391.3 189.2L393.7 185.1L389.1 186.4ZM405.5 189.1L407.9 184.9L403.2 186.3ZM419.6 189.0L422.0 184.7L417.3 186.2ZM433.8 188.9L436.2 184.6L431.5 186.1ZM448.0 188.8L450.3 184.4L445.6 185.9ZM80.4 181.0L84.7 179.3L80.4 177.6ZM94.6 180.9L98.8 179.2L94.5 177.5ZM108.7 180.9L113.0 179.1L108.7 177.4ZM122.9 180.8L127.1 179.0L122.8 177.4ZM137.1 180.7L141.3 178.8L136.9 177.3ZM151.3 180.3L155.4 178.3L151.0 176.9ZM165.5 179.9L169.5 177.7L165.0 176.5ZM179.6 179.5L183.6 177.1L179.0 176.1ZM193.8 179.1L197.6 176.5L193.0 175.8ZM207.9 178.7L211.6 175.9L207.0 175.4ZM222.0 178.3L225.6 175.3L221.0 175.0ZM236.1 177.9L239.5 174.7L234.9 174.6ZM250.2 177.4L253.4 174.2L248.8 174.3ZM264.2 177.0L267.3 173.6L262.7 173.9ZM278.3 176.6L281.2 173.0L276.6 173.6ZM292.3 176.2L295.0 172.5L290.5 173.3ZM306.3 175.8L308.8 172.0L304.3 173.0ZM320.2 175.4L322.6 171.5L318.2 172.7ZM334.4 175.3L336.8 171.3L332.3 172.6ZM348.6 175.3L351.0 171.2L346.5 172.5ZM362.8 175.2L365.2 171.1L360.7 172.4ZM377.0 175.1L379.4 171.0L374.8 172.3ZM391.2 175.0L393.6 170.8L389.0 172.2ZM405.4 174.9L407.8 170.7L403.1 172.1ZM419.6 174.9L422.0 170.6L417.3 172.0ZM433.8 174.8L436.1 170.4L431.4 171.9ZM448.0 174.7L450.3 170.3L445.6 171.9ZM80.4 166.9L84.7 165.2L80.4 163.5ZM94.6 166.8L98.8 165.0L94.5 163.4ZM108.8 166.7L113.0 164.9L108.7 163.3ZM122.9 166.6L127.1 164.7L122.8 163.2ZM137.1 166.5L141.3 164.5L136.9 163.1ZM151.4 165.8L155.5 163.5L151.0 162.4ZM165.7 165.1L169.7 162.5L165.0 161.7ZM180.0 164.4L183.8 161.4L179.0 161.0ZM194.2 163.7L197.8 160.4L192.9 160.3ZM208.3 162.9L211.7 159.3L206.8 159.6ZM222.3 162.4L225.5 158.6L220.6 159.2ZM236.3 161.9L239.3 158.0L234.4 158.8ZM250.3 161.4L253.1 157.3L248.2 158.4ZM264.2 161.0L266.8 156.7L262.0 158.0ZM278.1 160.5L280.4 156.1L275.7 157.7ZM292.0 160.1L294.1 155.5L289.4 157.4ZM305.9 159.6L307.7 155.0L303.2 157.1ZM319.7 159.2L321.2 154.5L316.9 156.8ZM333.9 159.1L335.5 154.3L331.1 156.7ZM348.2 159.0L349.7 154.1L345.2 156.5ZM362.4 158.8L364.0 153.9L359.4 156.4ZM376.7 158.7L378.2 153.7L373.6 156.2ZM390.9 158.5L392.5 153.5L387.9 156.0ZM405.2 158.3L406.7 153.2L402.1 155.8ZM419.5 158.1L421.0 153.0L416.4 155.7ZM433.7 157.9L435.2 152.8L430.6 155.5ZM448.0 157.7L449.5 152.6L444.9 155.3ZM80.4 152.9L84.7 151.1L80.4 149.4ZM94.6 152.4L98.8 150.5L94.5 149.0ZM108.9 151.6L112.9 149.3L108.4 148.2ZM123.0 150.5L126.7 147.8L122.1 147.2ZM137.7 149.7L141.5 146.4L136.5 146.2ZM151.7 148.9L155.1 145.2L150.2 145.5ZM165.6 148.1L168.7 144.1L163.8 144.8ZM179.8 147.3L182.6 143.1L177.7 144.2ZM193.8 146.6L196.5 142.1L191.5 143.6ZM207.9 145.8L210.2 141.1L205.2 142.9ZM222.2 144.8L224.3 140.0L219.4 142.1ZM236.5 143.8L238.3 138.8L233.6 141.2ZM250.7 142.7L252.2 137.6L247.6 140.2ZM264.8 141.5L266.0 136.4L261.6 139.3ZM279.0 140.3L280.0 135.1L275.7 138.2ZM293.2 139.0L293.9 133.8L289.8 137.1ZM307.3 137.8L307.8 132.5L303.8 136.0ZM321.3 136.5L321.5 131.2L317.7 134.8ZM335.6 135.4L335.8 130.1L332.0 133.8ZM349.8 134.3L349.9 129.0L346.2 132.8ZM364.0 133.2L364.1 128.0L360.4 131.8ZM378.2 132.1L378.2 126.9L374.6 130.7ZM392.4 131.0L392.2 125.8L388.7 129.7ZM406.5 130.5L406.3 125.2L402.8 129.2ZM420.7 129.9L420.4 124.7L417.0 128.7ZM434.8 129.4L434.5 124.1L431.1 128.1ZM448.9 128.8L448.6 123.6L445.2 127.6ZM80.4 138.8L84.7 137.1L80.4 135.3ZM94.2 132.4L96.6 128.1L91.8 129.6ZM108.2 126.7L109.0 121.5L104.9 124.7ZM121.8 121.7L121.7 116.4L118.2 120.3ZM135.3 117.1L134.6 111.8L131.5 116.1ZM148.2 115.6L147.1 110.5L144.4 115.0ZM162.1 114.6L161.0 109.4L158.3 113.9ZM175.5 110.3L174.1 105.2L171.6 109.9ZM189.0 109.6L187.4 104.6L185.1 109.3ZM202.8 108.8L201.2 103.8L198.9 108.6ZM216.7 108.1L215.0 103.1L212.8 107.9ZM230.7 108.5L229.0 103.5L226.8 108.3ZM244.8 108.8L243.1 103.8L240.9 108.6ZM258.9 109.2L257.2 104.2L255.0 109.0ZM273.0 109.6L271.2 104.6L269.0 109.4ZM287.0 109.9L285.3 105.0L283.1 109.8ZM301.1 110.3L299.3 105.3L297.2 110.2ZM315.2 110.7L313.4 105.7L311.3 110.5ZM329.3 111.0L327.5 106.1L325.4 110.9ZM343.4 111.0L341.6 106.1L339.4 110.9ZM357.5 111.0L355.6 106.1L353.5 110.9ZM371.5 111.0L369.7 106.1L367.6 110.9ZM385.6 111.0L383.8 106.1L381.7 110.9ZM399.7 111.0L397.9 106.1L395.8 110.9ZM413.8 111.0L412.0 106.1L409.9 110.9ZM427.9 111.0L426.1 106.1L424.0 110.9ZM442.0 111.0L440.1 106.1L438.1 110.9ZM70.7 119.9L67.8 118.4L68.9 121.5ZM78.8 114.2L73.8 112.5L76.2 117.2ZM94.1 108.9L90.0 105.7L90.8 110.9ZM108.8 104.5L105.2 100.7L105.2 106.0ZM126.0 100.9L123.1 96.5L122.2 101.7ZM139.8 96.9L137.1 92.5L136.0 97.6ZM153.8 96.0L151.0 91.5L150.0 96.6ZM167.9 95.5L165.1 91.0L164.0 96.1ZM182.0 95.0L179.2 90.5L178.1 95.6ZM196.0 94.5L193.2 90.0L192.2 95.2ZM210.1 94.0L207.3 89.5L206.2 94.7ZM224.8 94.2L222.1 89.6L220.9 94.8ZM239.5 94.4L236.8 89.8L235.6 94.9ZM254.1 94.6L251.6 90.0L250.2 95.1ZM268.8 94.8L266.4 90.2L264.9 95.2ZM283.5 95.1L281.1 90.4L279.6 95.4ZM298.1 95.3L295.8 90.6L294.2 95.6ZM312.8 95.6L310.6 90.8L308.9 95.8ZM327.4 95.8L325.3 91.0L323.5 96.0ZM341.6 96.0L339.5 91.1L337.7 96.1ZM355.8 96.1L353.7 91.2L351.9 96.2ZM370.1 96.2L368.0 91.4L366.1 96.3ZM384.3 96.3L382.2 91.5L380.3 96.4ZM398.5 96.5L396.4 91.6L394.6 96.6ZM412.7 96.6L410.6 91.7L408.8 96.7ZM426.9 96.7L424.8 91.9L423.0 96.8ZM441.1 96.8L439.1 92.0L437.2 96.9ZM80.1 110.6L84.3 108.9L80.1 107.2ZM94.7 108.5L98.5 105.8L93.9 105.1ZM109.3 106.6L112.7 103.0L107.7 103.3ZM124.5 102.3L126.8 97.5L121.8 99.3ZM139.3 95.6L140.3 90.4L136.0 93.5ZM153.2 95.4L154.1 90.2L149.8 93.4ZM167.1 95.3L167.9 90.0L163.7 93.2ZM180.5 95.3L181.2 90.1L177.1 93.4ZM194.0 95.4L194.4 90.2L190.5 93.7ZM207.5 95.7L207.9 90.4L204.0 94.0ZM221.1 95.9L221.3 90.6L217.6 94.3ZM235.0 96.0L235.1 90.8L231.4 94.5ZM248.8 96.2L248.9 90.9L245.2 94.7ZM262.7 96.4L262.6 91.1L259.0 94.9ZM276.5 96.5L276.4 91.2L272.9 95.1ZM290.4 96.7L290.2 91.4L286.7 95.4ZM304.3 96.9L304.0 91.6L300.6 95.6ZM318.2 97.0L317.8 91.8L314.4 95.8ZM332.2 97.0L331.8 91.7L328.4 95.8ZM346.2 96.9L345.7 91.7L342.4 95.8ZM360.2 96.8L359.7 91.6L356.4 95.8ZM374.2 96.8L373.6 91.5L370.4 95.7ZM388.2 96.7L387.6 91.5L384.4 95.7ZM402.2 96.7L401.5 91.4L398.4 95.7ZM416.2 96.6L415.5 91.4L412.4 95.7ZM430.2 96.5L429.4 91.3L426.4 95.7ZM444.2 96.5L443.3 91.3L440.4 95.7ZM80.4 96.5L84.7 94.8L80.4 93.1ZM94.6 96.4L98.8 94.6L94.5 93.0ZM108.8 96.2L113.0 94.4L108.6 92.8ZM123.0 95.0L127.0 92.6L122.4 91.6ZM137.3 93.9L140.9 91.0L136.2 90.6ZM151.5 93.2L155.1 90.0L150.3 89.9ZM165.9 92.5L169.3 88.9L164.3 89.2ZM180.1 91.9L183.4 88.0L178.3 88.6ZM194.3 91.3L197.4 87.1L192.2 88.0ZM208.4 90.6L211.3 86.2L206.2 87.4ZM222.6 90.0L225.2 85.4L220.1 86.9ZM236.6 89.3L239.0 84.7L234.1 86.4ZM250.7 88.7L252.8 83.9L247.9 85.9ZM264.7 88.0L266.6 83.1L261.8 85.4ZM278.6 87.4L280.2 82.4L275.6 84.9ZM292.5 86.7L293.9 81.6L289.4 84.4ZM306.4 86.1L307.5 80.9L303.1 83.9ZM320.2 85.5L321.0 80.2L316.8 83.4ZM334.2 84.9L334.9 79.6L330.8 82.9ZM348.3 84.3L348.8 79.0L344.8 82.5ZM362.3 83.7L362.7 78.4L358.8 82.0ZM376.3 83.1L376.5 77.8L372.7 81.5ZM390.3 82.5L390.4 77.2L386.7 81.0ZM404.2 81.9L404.1 76.6L400.6 80.5ZM418.3 81.7L418.2 76.4L414.7 80.3ZM432.5 81.5L432.3 76.2L428.8 80.1ZM446.6 81.3L446.4 76.0L442.9 80.0ZM80.4 82.5L84.7 80.7L80.4 79.0ZM94.6 82.3L98.8 80.6L94.5 78.9ZM108.8 82.2L113.0 80.4L108.7 78.8ZM122.9 82.1L127.1 80.2L122.8 78.7ZM137.1 82.0L141.3 80.1L136.9 78.6ZM151.3 81.4L155.4 79.2L150.9 78.0ZM165.5 80.8L169.4 78.3L164.8 77.5ZM179.6 80.2L183.3 77.5L178.8 76.9ZM193.7 79.6L197.2 76.7L192.6 76.4ZM207.8 79.1L211.1 75.9L206.5 75.9ZM221.9 78.6L225.1 75.2L220.4 75.4ZM236.0 78.1L239.0 74.5L234.3 75.0ZM250.1 77.6L252.9 73.8L248.2 74.6ZM264.1 77.1L266.8 73.1L262.1 74.1ZM278.1 76.6L280.6 72.4L275.9 73.7ZM292.1 76.1L294.4 71.8L289.7 73.4ZM306.1 75.6L308.1 71.1L303.5 73.0ZM320.0 75.1L321.8 70.5L317.3 72.6ZM334.2 74.5L335.8 69.6L331.2 72.0ZM348.3 73.8L349.7 68.7L345.2 71.4ZM362.5 72.9L363.6 67.8L359.2 70.7ZM376.5 72.0L377.4 66.8L373.2 70.0ZM390.5 71.2L391.2 65.9L387.1 69.3ZM404.4 70.3L404.8 65.0L400.9 68.6ZM418.5 70.0L418.9 64.8L415.0 68.4ZM432.6 69.8L432.9 64.5L429.1 68.2ZM446.7 69.6L446.9 64.3L443.1 68.0ZM80.4 68.4L84.7 66.7L80.4 64.9ZM94.6 68.2L98.8 66.4L94.5 64.8ZM108.8 68.1L113.0 66.2L108.6 64.6ZM123.0 66.8L127.0 64.4L122.4 63.5ZM137.3 66.4L141.2 63.8L136.6 63.0ZM151.6 66.0L155.5 63.2L150.7 62.6ZM165.7 65.2L169.3 62.0L164.5 61.9ZM180.0 64.4L183.4 60.7L178.5 61.0ZM193.9 63.6L197.0 59.7L192.1 60.4ZM207.9 63.1L210.8 59.0L205.9 60.0ZM222.0 62.8L224.7 58.7L219.9 59.8ZM236.0 62.6L238.6 58.3L233.8 59.6ZM250.0 62.3L252.5 58.0L247.7 59.4ZM264.0 62.0L266.4 57.7L261.6 59.2ZM278.2 61.6L280.4 56.9L275.6 58.8ZM292.3 61.0L294.4 56.2L289.6 58.3ZM306.5 60.4L308.3 55.5L303.6 57.8ZM320.6 59.8L322.2 54.8L317.6 57.3ZM334.6 58.9L336.0 53.8L331.5 56.6ZM348.6 58.0L349.6 52.9L345.3 55.9ZM362.4 57.2L363.2 51.9L359.1 55.2ZM376.7 55.8L377.2 50.5L373.2 54.0ZM390.8 54.4L391.1 49.1L387.2 52.7ZM404.8 52.9L404.8 47.7L401.2 51.5ZM418.9 52.7L418.8 47.4L415.2 51.3ZM432.9 52.4L432.8 47.2L429.2 51.1ZM446.9 52.2L446.8 46.9L443.3 50.9ZM80.4 54.3L84.7 52.6L80.4 50.9ZM94.6 54.0L98.8 52.1L94.5 50.6ZM108.8 53.4L112.9 51.2L108.5 50.0ZM123.7 52.4L127.8 49.7L122.9 48.8ZM137.7 51.1L141.5 47.8L136.5 47.6ZM152.3 49.6L155.7 45.5L150.4 46.1ZM166.0 48.4L168.9 44.0L163.7 45.2ZM180.1 47.3L182.6 42.6L177.6 44.3ZM194.2 46.3L196.4 41.5L191.5 43.5ZM208.2 46.0L210.2 41.1L205.4 43.2ZM222.3 45.5L224.2 40.6L219.4 42.9ZM236.4 45.1L238.2 40.1L233.5 42.5ZM250.5 44.7L252.2 39.7L247.5 42.2ZM264.6 44.3L266.1 39.2L261.6 41.8ZM278.8 43.5L280.1 38.4L275.6 41.2ZM292.9 42.8L294.0 37.7L289.7 40.6ZM307.0 42.1L307.9 36.9L303.6 40.0ZM321.0 41.3L321.8 36.1L317.6 39.4ZM334.8 39.9L335.2 34.6L331.3 38.1ZM348.6 39.4L348.8 34.1L345.0 37.8ZM362.4 38.9L362.4 33.6L358.7 37.4ZM376.1 38.4L375.9 33.1L372.4 37.0ZM389.8 37.9L389.5 32.6L386.1 36.7ZM403.8 37.8L403.4 32.5L400.1 36.6ZM417.8 37.7L417.3 32.4L414.0 36.6ZM431.7 37.6L431.2 32.4L427.9 36.6ZM445.7 37.5L445.0 32.3L441.9 36.5ZM80.4 40.2L84.7 38.5L80.4 36.8ZM95.4 37.9L99.4 34.9L94.4 34.3ZM109.4 34.3L112.3 29.9L107.1 31.1ZM123.4 32.0L125.5 27.2L120.6 29.3ZM137.4 28.9L138.6 23.8L134.2 26.6ZM151.2 27.3L151.9 22.0L147.8 25.3ZM164.8 25.6L165.1 20.4L161.2 24.0ZM178.1 24.0L177.9 18.8L174.4 22.7ZM191.2 22.5L190.6 17.2L187.4 21.5ZM205.3 22.2L204.7 17.0L201.5 21.2ZM219.4 22.0L218.8 16.8L215.6 21.0ZM233.5 21.7L232.8 16.5L229.7 20.8ZM247.7 21.5L246.9 16.3L243.8 20.6ZM261.8 21.2L261.0 16.0L257.9 20.3ZM275.9 21.0L275.0 15.8L272.0 20.1ZM290.0 20.7L289.1 15.5L286.1 19.9ZM304.0 20.5L303.2 15.3L300.2 19.6ZM318.1 20.2L317.2 15.0L314.3 19.4ZM329.0 19.5L327.2 14.5L325.1 19.3ZM343.1 19.5L341.3 14.5L339.2 19.3ZM357.2 19.5L355.3 14.5L353.2 19.4ZM371.2 19.4L369.4 14.5L367.3 19.4ZM385.3 19.4L383.4 14.5L381.4 19.4ZM399.4 19.4L397.5 14.5L395.4 19.4ZM413.4 19.4L411.5 14.5L409.5 19.4ZM427.5 19.4L425.6 14.5L423.6 19.4ZM441.6 19.4L439.6 14.5L437.6 19.4ZM72.9 21.8L71.7 18.8L70.5 21.8ZM87.1 21.8L85.9 18.8L84.7 21.8ZM101.2 21.7L100.0 18.7L98.8 21.7ZM115.4 21.7L114.2 18.7L113.0 21.7ZM129.5 21.6L128.3 18.6L127.1 21.6ZM143.6 21.6L142.4 18.6L141.2 21.6ZM157.8 21.5L156.6 18.5L155.4 21.5ZM171.9 21.5L170.8 18.5L169.6 21.5ZM186.1 21.4L184.9 18.4L183.7 21.4ZM200.2 19.4L199.1 16.4L197.9 19.4ZM214.4 19.4L213.2 16.4L212.0 19.4ZM228.6 19.4L227.4 16.4L226.2 19.4ZM242.7 19.4L241.5 16.4L240.3 19.4ZM256.9 19.4L255.7 16.4L254.5 19.4ZM271.0 19.4L269.8 16.4L268.6 19.4ZM285.1 19.4L283.9 16.4L282.8 19.4ZM299.3 19.4L298.1 16.4L296.9 19.4ZM313.4 19.4L312.2 16.4L311.1 19.4ZM327.6 19.4L326.4 16.4L325.2 19.4ZM341.8 19.4L340.6 16.4L339.4 19.4ZM355.9 19.4L354.7 16.4L353.5 19.4ZM370.1 19.4L368.9 16.4L367.7 19.4ZM384.2 19.4L383.0 16.4L381.8 19.4ZM398.3 19.4L397.1 16.4L395.9 19.4ZM412.5 19.4L411.3 16.4L410.1 19.4ZM426.6 19.4L425.4 16.4L424.2 19.4ZM440.8 19.4L439.6 16.4L438.4 19.4Z" stroke="#fff" stroke-width="0.80" fill="#fff" stroke-linejoin="round"/>
</g>
<rect x="469.2" y="17.3" width="37.2" height="375.5" fill="url(#cb)"/>
<rect x="444.0" y="17.30" width="1.3" height="375.50" fill="#fff" fill-opacity="0.5"/><rect x="69.00" y="17.30" width="377.50" height="375.50" fill="none" stroke="#262626" stroke-width="1.7"/><path d="M69.00 392.80v-4.0M69.00 17.30v4.0M94.17 392.80v-2.5M94.17 17.30v2.5M119.33 392.80v-2.5M119.33 17.30v2.5M144.50 392.80v-2.5M144.50 17.30v2.5M169.67 392.80v-2.5M169.67 17.30v2.5M194.83 392.80v-4.0M194.83 17.30v4.0M220.00 392.80v-2.5M220.00 17.30v2.5M245.17 392.80v-2.5M245.17 17.30v2.5M270.33 392.80v-2.5M270.33 17.30v2.5M295.50 392.80v-2.5M295.50 17.30v2.5M320.67 392.80v-4.0M320.67 17.30v4.0M345.83 392.80v-2.5M345.83 17.30v2.5M371.00 392.80v-2.5M371.00 17.30v2.5M396.17 392.80v-2.5M396.17 17.30v2.5M421.33 392.80v-2.5M421.33 17.30v2.5M446.50 392.80v-4.0M446.50 17.30v4.0M69.00 392.80h4M446.50 392.80h-4M69.00 317.70h4M446.50 317.70h-4M69.00 242.60h4M446.50 242.60h-4M69.00 167.50h4M446.50 167.50h-4M69.00 92.40h4M446.50 92.40h-4M69.00 17.30h4M446.50 17.30h-4" stroke="#262626" stroke-width="1.2" fill="none"/><rect x="469.20" y="17.30" width="37.20" height="375.50" fill="none" stroke="#262626" stroke-width="1.5"/><path d="M506.40 346.33h-3.5M506.40 299.85h-3.5M506.40 253.38h-3.5M506.40 206.91h-3.5M506.40 160.44h-3.5M506.40 113.96h-3.5M506.40 67.49h-3.5M506.40 21.02h-3.5" stroke="#262626" stroke-width="1.2" fill="none"/>
<g stroke="#1a1a1a" stroke-width="0.3"><text x="64.3" y="399.5" font-size="23" text-anchor="end">0</text><text x="64.3" y="325.1" font-size="23" text-anchor="end">0.2</text><text x="64.3" y="250.8" font-size="23" text-anchor="end">0.4</text><text x="64.3" y="176.4" font-size="23" text-anchor="end">0.6</text><text x="64.3" y="102.0" font-size="23" text-anchor="end">0.8</text><text x="64.3" y="27.6" font-size="23" text-anchor="end">1.0</text><text x="70.5" y="419.1" font-size="23" text-anchor="middle">0</text><text x="194.8" y="419.1" font-size="23" text-anchor="middle">1</text><text x="318.7" y="419.1" font-size="23" text-anchor="middle">2</text><text x="443.4" y="419.1" font-size="23" text-anchor="middle">3</text><text x="517" y="355.8" font-size="23">5</text><text x="517" y="309.3" font-size="23">10</text><text x="517" y="262.8" font-size="23">15</text><text x="517" y="216.3" font-size="23">20</text><text x="517" y="169.8" font-size="23">25</text><text x="517" y="123.3" font-size="23">30</text><text x="517" y="76.8" font-size="23">35</text><text x="517" y="30.3" font-size="23">40</text></g><text x="256" y="447" font-size="22" text-anchor="middle"><tspan font-style="italic">z</tspan> (μm)</text><text transform="translate(24.8,205.5) rotate(-90)" font-size="22" text-anchor="middle"><tspan font-style="italic">y</tspan> (μm)</text>
</svg></body></html>
